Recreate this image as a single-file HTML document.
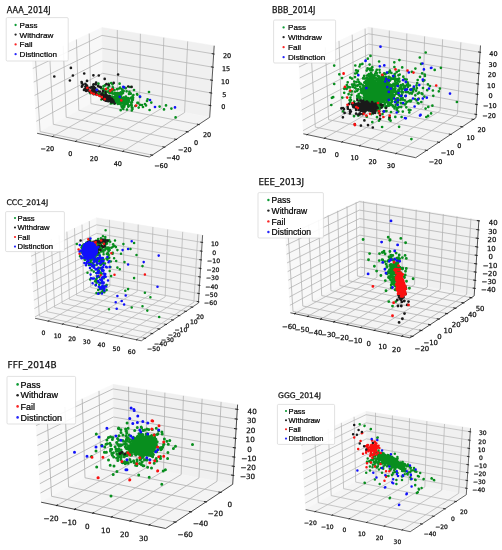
<!DOCTYPE html>
<html lang="en"><head><meta charset="utf-8"><title>3D scatter plots</title>
<style>
html,body{margin:0;padding:0;background:#fff}
svg{display:block}
.t{font-family:"DejaVu Sans","Liberation Sans",sans-serif;fill:#111;stroke:#111;stroke-width:0.25px}
.l{font-family:"Liberation Sans",sans-serif;fill:#000;stroke:#000;stroke-width:0.22px}
</style></head>
<body>
<svg width="502" height="550" viewBox="0 0 502 550">
<rect width="502" height="550" fill="#fff"/>
<g id="plot1">
<polygon points="37.1,133.3 103,97 101.9,27.5 32.3,60.2" fill="#f8f8f8" stroke="#f8f8f8" stroke-width="0.5"/>
<polygon points="103,97 209.7,117.3 214.2,45.7 101.9,27.5" fill="#f0f0f0" stroke="#f0f0f0" stroke-width="0.5"/>
<polygon points="37.1,133.3 149.4,157 209.7,117.3 103,97" fill="#f4f4f4" stroke="#f4f4f4" stroke-width="0.5"/>
<path d="M52.5,136.6 L117.7,99.8 L117.3,30 M75.5,141.4 L139.6,103.9 L140.4,33.8 M99,146.3 L161.9,108.2 L163.8,37.6 M122.9,151.4 L184.6,112.5 L187.7,41.4 M152.2,155.1 L40.1,131.6 L35.5,58.7 M164.3,147.1 L53.3,124.3 L49.5,52.1 M176.1,139.4 L66.2,117.2 L63.2,45.7 M187.6,131.8 L78.8,110.3 L76.4,39.5 M198.7,124.5 L90.9,103.6 L89.2,33.5 M36.3,121.3 L102.8,85.5 L210.4,105.5 M35.4,108.5 L102.6,73.3 L211.2,93 M34.6,95.4 L102.4,60.9 L212,80.2 M33.7,82.1 L102.2,48.3 L212.8,67.2 M32.8,68.5 L102,35.4 L213.7,53.9" fill="none" stroke="#b2b2b2" stroke-width="0.75"/>
<path d="M37.1,133.3 L149.4,157 L209.7,117.3 L214.2,45.7" fill="none" stroke="#111" stroke-width="0.68" stroke-linejoin="round"/>
<path d="M51.9,136.9 L53.7,135.9 M75,141.7 L76.7,140.7 M98.4,146.7 L100.1,145.7 M122.3,151.7 L124,150.7 M153.1,155.3 L150.2,154.7 M165.3,147.3 L162.4,146.7 M177.1,139.6 L174.2,139 M188.6,132 L185.7,131.4 M199.7,124.7 L196.9,124.1 M211.4,105.7 L208.6,105.2 M212.2,93.2 L209.3,92.6 M213,80.4 L210.1,79.9 M213.8,67.3 L210.9,66.8 M214.6,54.1 L211.7,53.6" fill="none" stroke="#222" stroke-width="0.95"/>
<g class="t" font-size="6.5" text-anchor="middle">
<text x="47.4" y="150.9">−20</text><text x="70.4" y="155.8">0</text><text x="93.9" y="160.9">20</text><text x="117.8" y="166">40</text><text x="161" y="168.4">−60</text><text x="173.1" y="160.3">−40</text><text x="184.8" y="152.4">−20</text><text x="196.1" y="144.8">0</text><text x="207.1" y="137.4">20</text><text x="223.4" y="109.1">0</text><text x="224.3" y="96.6">5</text><text x="225.2" y="83.8">10</text><text x="226.1" y="70.8">15</text><text x="227.1" y="57.6">20</text>
</g>
<path d="M124.3 106.7h0M116.9 100.7h0M111.2 93h0M128.7 102h0M105.9 96.5h0M117.1 95.1h0M121.5 94.3h0M110.9 103.4h0M116.7 97.3h0M123.1 103.3h0M120.8 96.3h0M135.4 106h0M115.8 102.4h0M117.4 101.4h0M127.8 103.4h0M127.6 100.7h0M127 109.6h0M116.5 98.8h0M125.9 96.5h0M109 99.4h0M118 94.4h0M113.9 97.4h0M121.9 101.1h0M128.8 100.8h0M116.8 99.7h0M118.5 98.2h0M125.5 104.3h0M112.7 100.2h0M128.3 105.2h0M104 94.6h0M117.2 97.6h0M117.7 102.9h0M117.9 97.5h0M113.2 103.2h0M111.6 97.3h0M101.4 99.5h0M112.1 96.6h0M122.6 100.8h0M121.5 102.4h0M132.3 107.7h0M122.7 106.2h0M131.4 105.6h0M111.8 99.4h0M110.9 98.7h0M118.3 97h0M121.9 102.6h0M118.2 95.2h0M117.4 97.2h0M126.8 102.4h0M113.8 102.4h0M131 105h0M123.4 105.4h0M123.4 101.4h0M111.5 99.6h0M124 97.7h0M120.5 101.6h0M127.2 101.6h0M114.8 100.2h0M128.5 102.2h0M101.2 88.3h0M118 95.9h0M131.8 107.4h0M119.5 98.6h0M115.9 99.6h0M132.9 99.8h0M115.4 99.7h0M113.9 97.9h0M122.9 97.9h0M120.5 104.3h0M120.9 102.4h0M114.8 94.5h0M116 96.5h0M115.3 98.8h0M123.3 108.9h0M113.9 97.9h0M118.3 97.2h0M117.9 101.6h0M119.1 101h0M119.7 102.2h0M120.2 98.3h0M123.4 103.7h0M112.6 89.3h0M116.5 100.1h0M128.2 100h0M123.4 97.5h0M123.5 99.2h0M117.8 98.5h0M118.9 98.8h0M120.6 102h0M132 102.2h0M114.4 98.7h0M128.3 102.1h0M109.3 96.9h0M113.6 100.5h0M120.2 103.9h0M117.9 103.9h0M114.3 93.9h0M119.9 99.9h0M128.3 106.7h0M111.2 98.6h0M112.3 92.5h0M115.5 93.1h0M120.7 102.5h0M122.7 105.8h0M125.1 99.4h0M125.2 102.8h0M127 103.7h0M112.4 102.7h0M122.5 101.1h0M132.5 109h0M122.7 103.3h0M138.7 107.6h0M126.4 99.4h0M115.1 96.9h0M112.1 100.8h0M119.9 99.8h0M108.3 97h0M107.2 91.7h0M109.9 90.2h0M123.5 98.6h0M104.9 98.8h0M118.2 101.1h0M131.3 102.4h0M112 92.3h0M121.6 106.6h0M119.2 95.9h0M121 92.3h0M111.2 83.1h0M133.4 95.1h0M119 93.5h0M114.9 93.2h0M104.9 85.4h0M122.4 101.3h0M123 93.1h0M110 93h0M119.1 88.5h0M107.7 88.2h0M109.8 92.2h0M131.5 104.6h0M108.6 83.9h0M120.8 94.9h0M123.5 105.8h0M130.8 93.7h0M109.5 90.5h0M121.4 98.9h0M122.9 93.2h0M112.8 87.3h0M119.3 93h0M131.3 97.7h0M123.2 102.9h0M120.7 110.2h0M151.3 102.6h0M118.2 96.4h0M103.5 89.2h0M127.5 99h0M118 99.6h0M111.8 97.2h0M117.2 89.2h0M109.5 93.2h0M121.3 94.7h0M114.5 90.1h0M110.6 98.4h0M137.3 94.7h0M128 98h0M132 99.6h0M112.6 90.4h0M112.8 88.6h0M109.1 86.2h0M125.9 98.3h0M129.4 91.8h0M121.9 99.7h0M125 100.5h0M131.7 105.3h0M117.2 93.1h0M125.1 100.2h0M110.1 96.4h0M104.8 93.8h0M119.8 96.8h0M90.3 93.2h0M125.6 100.8h0M126.7 98.2h0M129.3 98.7h0M121.7 92.4h0M103.1 93h0M98 94h0M112.6 93.6h0M133.1 97.8h0M120.1 100.3h0M124.3 87.5h0M99 93.3h0M137.4 102.9h0M131.3 102.6h0M119.6 83.7h0M112.3 93.5h0M122.1 107.5h0M118.8 101.8h0M112.5 84.3h0M110.6 92.1h0M110.6 98.7h0M131.9 101.1h0M109.4 92.1h0M126.6 91.3h0M128.8 105.9h0M121.9 89.3h0M112.2 90.2h0M111.3 97.3h0M129 93.9h0M103.5 86.3h0M131 104.6h0M139.9 104.8h0M101.3 94.5h0M98.4 83.7h0M120.1 87.7h0M118.9 95h0M138.1 102.8h0M109.6 92.3h0M121.1 94.2h0M122.3 90h0M95.4 91.5h0M147.6 99.3h0M123.6 98.1h0M102.5 98.6h0M105.2 90.6h0M125.8 88.1h0M131.8 110.5h0M123.7 91.1h0M132.6 96.3h0M103.1 92.5h0M110.3 100.9h0M124.5 100.1h0M149 92h0M140 97h0M145 104h0M142 105h0M149.6 110h0M159.6 106.6h0M166 105.4h0M164 109.4h0M171.4 108.6h0M175.6 117.4h0M130 87h0M134 90h0M137 94h0M132 99h0M147 101h0M143 107h0M146 105.4h0" stroke="#088e1e" stroke-width="2.70" stroke-linecap="round" fill="none"/>
<path d="M106.2 98.5h0M104.3 99.9h0M102.3 98.7h0M107.1 101h0M108.9 99.8h0M113.6 101.8h0M108.3 99.9h0M112.5 100.4h0M104.6 96.4h0M109.9 100h0M109.4 100.9h0M107.7 97.1h0M108.6 97.8h0M110.6 98.4h0M111.4 102.3h0M108.9 98.4h0M109.9 99.4h0M114.7 103.6h0M110 100.7h0M104.7 98.7h0M101.7 95.9h0M106.4 97.4h0M109.2 100.9h0M100.2 96h0M110.2 100.3h0M108.4 101.2h0M107.9 99.2h0M105.5 100.6h0M110.5 100.8h0M109.7 97.7h0M103.7 96h0M105 98.2h0M112 98.9h0M109.5 96.1h0M103.4 95h0M103.2 95.2h0M113.2 100.4h0M106.1 94.6h0M103.9 98h0M102.2 97.1h0M89.6 91.7h0M102.9 91.2h0M87.9 89.6h0M82.2 86h0M97.6 90.7h0M84.7 88.8h0M87 85.6h0M96.5 94.6h0M93.5 94.1h0M108.2 99.7h0M92 90.5h0M99.6 95.5h0M95.5 91.1h0M106 94.4h0M92.7 92.4h0M84 90h0M110.1 99.9h0M90.7 87.6h0M93.2 91.9h0M109.5 99.3h0M96.1 91.2h0M93.8 92.6h0M93.9 90.7h0M106.4 96.9h0M103 94.8h0M93.5 93h0M88.2 90.4h0M92 92.6h0M82.8 84.7h0M97.1 91.2h0M85.8 88.5h0M93.8 88.6h0M107.3 97.9h0M95.2 88.1h0M81.9 86.7h0M101.6 93.7h0M96.4 94.4h0M94.5 93.9h0M99.8 91.6h0M95.7 93h0M85.4 84.1h0M95.2 90.5h0M107.6 95.8h0M108.3 99.4h0M97.3 91.3h0M81.6 82.1h0M92.5 89.6h0M88.4 87.8h0M95.9 84.3h0M100.9 94.9h0M93.9 87h0M87 89.3h0M92.3 86.8h0M100.9 87.3h0M105.5 92.3h0M95.3 91.2h0M88.1 88.2h0M93.8 84.3h0M96.1 82.5h0M98.1 86.2h0M93.4 84.7h0M87 80.9h0M106.4 84.2h0M54.3 76.5h0M70.9 67.9h0M72.9 75.5h0M69.9 80.5h0M84.2 73.5h0M93.4 75.3h0M98.8 75.5h0M118.1 74.5h0M81.8 82.9h0M104.7 78.9h0M85.4 86.5h0M86.2 90.9h0M128.2 86.5h0M131.6 86.9h0M99.8 86.9h0M108.7 84.9h0M113.7 82.9h0" stroke="#1a1a1a" stroke-width="2.70" stroke-linecap="round" fill="none"/>
<path d="M89.8 90.5h0M91.4 92.8h0M93.8 93.8h0M96.8 94.8h0M99.4 95.8h0M110.1 90.9h0M112.1 89.3h0M104.7 99.2h0M121.3 100.4h0M87.4 87.9h0M101.8 97.2h0M136 105.6h0M106 89h0" stroke="#fa1010" stroke-width="2.70" stroke-linecap="round" fill="none"/>
<path d="M123.3 86.9h0M119.7 96.8h0M96.8 89.9h0M124 87.4h0M140 96.6h0M150 100h0M155 107h0M175 107.4h0" stroke="#1010fa" stroke-width="2.70" stroke-linecap="round" fill="none"/>
<rect x="6.2" y="17.6" width="62" height="43.4" rx="1.2" fill="#fff" fill-opacity="0.9" stroke="#ccc" stroke-width="0.6"/>
<g class="l" font-size="8.1">
<circle cx="15.6" cy="25" r="1.15" fill="#0c9a34" stroke="none"/><text x="19.6" y="27.9">Pass</text>
<circle cx="15.6" cy="34.6" r="1.15" fill="#262626" stroke="none"/><text x="19.6" y="37.5">Withdraw</text>
<circle cx="15.6" cy="44.4" r="1.15" fill="#fa2424" stroke="none"/><text x="19.6" y="47.3">Fail</text>
<circle cx="15.6" cy="54.2" r="1.15" fill="#2424fa" stroke="none"/><text x="19.6" y="57.1">Distinction</text>
</g>
<text class="t" x="6.8" y="12.6" font-size="8.05">AAA_2014J</text>
</g>
<g id="plot2">
<polygon points="303.3,133.8 369.2,97.2 368.1,27.1 298.5,60.1" fill="#f8f8f8" stroke="#f8f8f8" stroke-width="0.5"/>
<polygon points="369.2,97.2 476,117.7 480.5,45.5 368.1,27.1" fill="#f0f0f0" stroke="#f0f0f0" stroke-width="0.5"/>
<polygon points="303.3,133.8 415.7,157.7 476,117.7 369.2,97.2" fill="#f4f4f4" stroke="#f4f4f4" stroke-width="0.5"/>
<path d="M307.2,134.6 L372.9,97.9 L372,27.8 M324.4,138.3 L389.4,101 L389.3,30.6 M341.9,142 L406,104.2 L406.8,33.5 M359.7,145.8 L422.9,107.5 L424.6,36.4 M377.7,149.6 L440.1,110.8 L442.6,39.3 M396,153.5 L457.4,114.1 L460.9,42.3 M426.7,150.4 L315.3,127.1 L311.2,54 M438.9,142.3 L328.6,119.7 L325.3,47.4 M450.7,134.4 L341.5,112.6 L339,40.9 M462.2,126.8 L354.1,105.6 L352.2,34.7 M473.4,119.4 L366.3,98.8 L365.1,28.6 M303.1,130.6 L369.2,94.1 L476.2,114.5 M302.4,120.4 L369,84.4 L476.8,104.5 M301.7,110 L368.9,74.5 L477.5,94.3 M301.1,99.5 L368.7,64.5 L478.1,84 M300.4,88.8 L368.5,54.4 L478.8,73.6 M299.7,78 L368.4,44.1 L479.4,63 M299,67 L368.2,33.7 L480.1,52.3" fill="none" stroke="#b2b2b2" stroke-width="0.75"/>
<path d="M303.3,133.8 L415.7,157.7 L476,117.7 L480.5,45.5" fill="none" stroke="#111" stroke-width="0.68" stroke-linejoin="round"/>
<path d="M306.6,135 L308.3,134 M323.8,138.6 L325.6,137.6 M341.4,142.4 L343.1,141.3 M359.1,146.1 L360.8,145.1 M377.2,150 L378.9,148.9 M395.5,153.9 L397.1,152.8 M427.7,150.6 L424.8,150 M439.9,142.5 L437,141.9 M451.7,134.6 L448.8,134 M463.2,127 L460.3,126.4 M474.3,119.6 L471.5,119.1 M477.2,114.6 L474.4,114.1 M477.8,104.7 L475,104.1 M478.4,94.5 L475.6,94 M479.1,84.2 L476.2,83.7 M479.7,73.8 L476.8,73.3 M480.4,63.2 L477.5,62.7 M481.1,52.4 L478.1,51.9" fill="none" stroke="#222" stroke-width="0.95"/>
<g class="t" font-size="6.5" text-anchor="middle">
<text x="302" y="149">−20</text><text x="319.3" y="152.7">−10</text><text x="336.8" y="156.5">0</text><text x="354.6" y="160.4">10</text><text x="372.6" y="164.3">20</text><text x="390.9" y="168.2">30</text><text x="435.5" y="163.6">−20</text><text x="447.6" y="155.4">−10</text><text x="459.3" y="147.5">0</text><text x="470.6" y="139.8">10</text><text x="481.6" y="132.3">20</text><text x="489.1" y="118">−20</text><text x="489.8" y="108">−10</text><text x="490.5" y="97.9">0</text><text x="491.2" y="87.6">10</text><text x="492" y="77.2">20</text><text x="492.7" y="66.6">30</text><text x="493.5" y="55.9">40</text>
</g>
<path d="M377.1 103.7h0M364.9 96h0M388.2 79.5h0M377.7 95h0M368.3 94.8h0M385.8 93.8h0M384.8 90.3h0M366.3 94.8h0M385.2 95.8h0M372.6 94.5h0M369 103.9h0M382.9 90.5h0M371.8 92.2h0M367 84.7h0M372.9 91.4h0M374.3 89h0M377 92.2h0M371.2 93.2h0M378.3 98.4h0M378.9 99.4h0M378.1 80.1h0M376.8 93.9h0M359 81.9h0M379.6 82.7h0M369.8 91h0M364.9 93.4h0M375.8 93.2h0M364.9 88.1h0M378.9 84.5h0M390.6 88.9h0M386 91.5h0M375.3 83h0M367.8 83.7h0M378.4 91.7h0M374.2 93.8h0M383.7 89h0M370.9 91.9h0M371.3 97.4h0M372.4 95.1h0M385.4 95.3h0M385.6 86.9h0M375.3 93.5h0M383.1 88.1h0M373.1 92.9h0M378 104.6h0M369.9 88.8h0M378 98.5h0M375.3 88.5h0M379.3 92.7h0M376.5 89h0M375.7 78.2h0M386.5 89.1h0M372 96h0M365.3 95.5h0M380 92.4h0M370.8 88.6h0M373.9 99.1h0M380.3 91h0M372.4 98.2h0M371.7 100.5h0M376.6 98.3h0M387.2 88.2h0M365.9 91.2h0M382.1 87.8h0M380.1 98.4h0M380.5 80.8h0M378.1 94.7h0M366.8 86.4h0M376.4 83.2h0M372.7 85.6h0M378.7 88.9h0M376.2 91.8h0M369 87.4h0M367.9 96.8h0M369.2 97.8h0M385.7 97.8h0M386.1 99.5h0M386.6 86.2h0M381.3 84.2h0M380.2 94.9h0M381.1 107.4h0M384.8 88h0M377.9 101.4h0M384.2 98.1h0M384.5 92.9h0M372.3 83h0M369.4 92.9h0M375.6 91.3h0M375.4 89.6h0M378.3 102.5h0M389 86.3h0M374.3 103.3h0M394.9 92.1h0M369.6 100.1h0M378.8 90.5h0M367 89.1h0M372.3 92.4h0M379.5 92.2h0M386.1 82.3h0M384.9 84.3h0M368.8 109.3h0M378.2 95.5h0M391.5 95.2h0M365 95.6h0M365.8 104.3h0M377.7 90.1h0M374 91h0M374.7 89.2h0M372.3 91.5h0M381.1 102h0M378.9 92.6h0M374.4 95.8h0M386.9 84.8h0M358.5 96.4h0M380.6 103.1h0M372.5 97h0M375.7 80.4h0M372.8 89.9h0M378.4 79.8h0M370.4 83.4h0M375.2 96.6h0M378.9 98.7h0M378.3 81.6h0M381 89.7h0M375.9 91.5h0M376.9 86.9h0M373.1 85.9h0M368.8 92.9h0M374 83.6h0M376.8 100.7h0M377.4 88h0M377.7 89.7h0M375 94.8h0M373.9 99.3h0M371.5 100.1h0M378.1 85.9h0M371.6 84.2h0M373.6 95.6h0M371.6 82.9h0M385.1 86.7h0M376.7 97.7h0M377.9 92.7h0M381.6 98.2h0M373.6 97.7h0M385.8 89.9h0M374.2 99.3h0M386.7 88.1h0M368.7 85.7h0M381.2 101.2h0M372.2 86.6h0M380.9 105.5h0M373.7 93h0M381.5 88.9h0M370.1 103.7h0M369.1 88.5h0M385.3 95.8h0M389 96.9h0M377.8 95.4h0M372.9 93.4h0M368.4 92.1h0M370.8 92.8h0M375.8 88.7h0M379.4 93.1h0M366.8 94.8h0M367.6 87.3h0M386.3 94.9h0M377.8 83.6h0M380.9 93h0M373.2 87.3h0M381.1 87.8h0M370 97h0M368.3 87.6h0M374 88.7h0M376.4 100.7h0M378.4 82.8h0M376.7 85.3h0M379.8 87.8h0M378.8 95.6h0M375.8 99h0M373.7 91h0M367.8 91.8h0M383.9 99.8h0M372.6 95.7h0M379.6 84.8h0M379.2 80.4h0M371.9 93.2h0M361.5 89.9h0M386.9 73.1h0M383.4 96.2h0M391.9 99.4h0M371.7 86.8h0M381.1 98.8h0M379.4 90.1h0M366.8 87.7h0M375.7 91.9h0M376.6 93.3h0M371.1 90.3h0M384.4 95h0M386.8 89.8h0M372.9 87.4h0M378.5 97.1h0M373.3 92.6h0M366.1 91.8h0M375.9 84.8h0M378.1 96.4h0M364.5 94.2h0M371.2 93.7h0M373.4 95.5h0M380.1 86.3h0M376.5 90.1h0M377.3 99.4h0M377.2 105.3h0M384.7 87.9h0M386.5 94h0M375.6 88.3h0M380.3 80.2h0M370.1 91.6h0M368.7 90.8h0M379.1 106h0M370.8 86.7h0M370.3 97.6h0M371.6 78.3h0M374.2 97.3h0M375.4 90.8h0M372.1 76.1h0M386 98.9h0M375.5 101.7h0M366.7 92.9h0M378.8 86.9h0M388.2 101.2h0M384.6 89.7h0M385.3 91.8h0M379.8 92.1h0M372.1 79.7h0M388.8 81.9h0M370.7 86.2h0M385.5 78.2h0M394.4 86.3h0M391.6 87.6h0M376.2 97.8h0M380.2 79.1h0M388.8 89.7h0M384.1 95h0M384.4 90.9h0M365.9 80.7h0M372.5 93.6h0M385.4 98.7h0M379 87.8h0M369.8 102.3h0M358 96.6h0M369.5 82.4h0M373.1 92.2h0M379.1 84.8h0M377.7 82.5h0M367.9 86.1h0M379.3 92h0M375.7 87.2h0M390.7 91.9h0M384.9 103.8h0M381.1 81.8h0M376.8 89.2h0M370.2 92.1h0M381.5 106h0M384.3 83h0M369.6 89.7h0M375.8 103.3h0M387.6 97.1h0M376.2 96.1h0M372.1 92.8h0M374.3 88.9h0M392.5 92.8h0M374.6 91.6h0M369.4 82.8h0M382.5 84.3h0M376.9 92.1h0M379 93.7h0M375.8 94.8h0M371.5 99.1h0M398.3 111.6h0M367.2 93.7h0M371.5 96.9h0M381.7 84.4h0M391 98.3h0M374.3 90.4h0M386.4 96.1h0M371.8 96.2h0M375.5 96.1h0M377.4 89.9h0M376.5 87.6h0M388.4 88h0M370.8 92.3h0M379.4 92.3h0M383.9 87.7h0M372.3 94.6h0M373.9 84.5h0M376 90.7h0M383.8 93.8h0M388.3 92.4h0M370.5 91.7h0M376.4 89.1h0M376.4 89.3h0M379.5 98.9h0M384.6 95.1h0M373.4 92.2h0M371.1 104.1h0M386.2 95.1h0M369.7 95.1h0M375 102.6h0M377.1 104.7h0M381.1 94.5h0M372.7 87.9h0M374.5 92.1h0M375.5 97.3h0M375.9 93.5h0M383.5 91.4h0M368.3 82.6h0M386 96.7h0M380 103.6h0M380.1 81.2h0M380.9 95.5h0M390.3 89.1h0M378.6 100h0M397.3 84.9h0M386.6 92.9h0M379.1 100h0M370.6 90.4h0M364 87.8h0M381.1 90h0M385.5 95.7h0M363 89.5h0M369.5 82.2h0M375.3 103.3h0M376.2 92h0M376.2 89.7h0M365.7 92.8h0M365.3 92.1h0M361.1 90.1h0M371.8 98.3h0M382.2 101.7h0M390.6 92h0M371.1 100.5h0M369.4 76.9h0M381.6 86.9h0M385.8 96.5h0M389.9 90h0M380.1 85h0M376.5 94.2h0M361.2 84.1h0M368.7 93.3h0M370 83.9h0M365.7 93.6h0M378.7 98.4h0M372.2 87.5h0M369.5 76.6h0M364.8 87.9h0M381.5 93h0M380.1 90.4h0M384.4 96.3h0M372.8 99.6h0M379.2 88.8h0M381.1 100.9h0M381.3 96.6h0M357.1 91h0M395.4 88.3h0M375.8 90.6h0M368.5 84h0M371 89.5h0M374 94.4h0M380.3 88.9h0M388.9 102.6h0M363 85.4h0M375.5 96h0M379.5 98.2h0M368.3 100.4h0M381.2 100.4h0M373 97.8h0M381.9 81.8h0M379.6 91.4h0M384.6 89.5h0M372.9 89.8h0M357.1 98.1h0M364.5 93.4h0M381 89.2h0M381.1 86.7h0M374.8 91.3h0M379.3 94.4h0M373.2 91.6h0M380.5 80.5h0M384 101h0M371.1 85.4h0M377.4 92.9h0M377.5 91.4h0M370 88.2h0M381.8 91.5h0M391.7 90.8h0M375.5 91h0M391.8 92h0M380 94.2h0M377.3 101.8h0M382.9 93h0M375.3 94.9h0M375.3 93h0M369 87.9h0M369.8 101.8h0M375.6 96.2h0M383 89.1h0M380.4 107.9h0M372 83.9h0M375 93.2h0M369.7 87.1h0M365.7 87.9h0M379.3 83.1h0M378.2 86.3h0M382.2 91.5h0M376.6 86.1h0M384.9 97.1h0M372.2 94.2h0M372.5 100.3h0M377.7 98h0M384.8 89.5h0M381.9 95.7h0M375.2 95.6h0M380.5 92.1h0M386.5 87h0M382.9 97.9h0M364.7 88.8h0M390 92h0M375.8 92.8h0M381.5 98.2h0M376 79.1h0M373.4 93.3h0M379.1 100.5h0M372.6 97.5h0M382.9 95.6h0M367.6 90.5h0M379.1 91.8h0M382 81.8h0M387.7 99.2h0M359.5 96.5h0M383.8 102.1h0M379.9 98.7h0M370.3 79.8h0M382.9 96.1h0M372.9 93.7h0M366.9 91.2h0M372.7 100.1h0M375.1 90.9h0M373.4 96.8h0M381 85.8h0M371.8 93.9h0M384.1 84.5h0M364.1 89.3h0M380.3 84.2h0M374.8 92.2h0M380.5 88.3h0M381.4 90h0M370.9 89.7h0M373.1 103h0M387.6 94.3h0M385.4 92.3h0M377.4 101.7h0M365.5 89h0M376.9 91.6h0M382.7 100.3h0M377.1 97.8h0M362.2 102.5h0M368.2 97.5h0M381.7 82.8h0M380 91.6h0M380.5 97.6h0M377.4 99.3h0M362.1 91.8h0M375.7 90.9h0M364 92.4h0M382.7 88.4h0M377.8 95.1h0M376.1 91.8h0M375 90.6h0M387.2 89.3h0M376.6 93.6h0M379.9 80.5h0M374 97.8h0M381.6 90.6h0M374.1 100h0M374.6 103.2h0M375.3 94.3h0M377.9 96.3h0M386.8 92.2h0M366.2 81.3h0M370.7 93.1h0M358.7 94.1h0M383.1 92.5h0M390.9 103.6h0M368.9 93.7h0M378.7 88.4h0M391.8 91.6h0M369.1 87.8h0M379.8 93.5h0M380.6 87.4h0M369.9 85.4h0M374.4 106.9h0M390.4 97.3h0M375.9 84.3h0M371.4 93.2h0M375.6 84.3h0M381.2 89.2h0M376.9 96.6h0M390 89.9h0M380.6 88.4h0M373.2 107h0M372.9 97.8h0M375.9 86.4h0M367.9 85.1h0M384.9 92h0M382.3 92.4h0M380.4 97.5h0M387.5 91.1h0M375.2 91h0M392.1 95.6h0M369.1 99.1h0M367.4 94.4h0M376.1 91.4h0M367.3 97.7h0M367.5 88.2h0M378.7 106.8h0M375.2 86.8h0M382.9 91.8h0M379.3 101.1h0M372.5 90.4h0M372.7 86.7h0M380.3 99.4h0M384.7 94.7h0M379.1 88.7h0M373 97.8h0M371.5 99.4h0M377.5 95h0M382.3 88.7h0M383.3 92.6h0M385.2 95.5h0M385.7 82.1h0M382.7 89.3h0M380.1 79.9h0M373.3 106.3h0M377.2 107.9h0M376 90.2h0M379.1 101.9h0M385.2 97.4h0M367.5 97.9h0M374.2 94.3h0M390.7 95.4h0M379.5 92h0M386 90.3h0M387.6 90.3h0M369.4 86.8h0M376.1 101.2h0M372.2 94.7h0M363.5 102.5h0M376.3 96.3h0M374.3 77.8h0M380.5 82.5h0M379.7 97.4h0M375.9 91.9h0M379.8 93.7h0M378.3 103.4h0M382.9 95.6h0M371.8 96.1h0M366.2 94.1h0M372.4 93.6h0M374.3 93.8h0M370.9 97h0M388.2 89.1h0M375.7 83.1h0M366.3 91.1h0M379.7 97.4h0M378.1 87.1h0M378.3 88.7h0M377.7 98.5h0M364.5 90.9h0M388.9 92.2h0M392.7 98.7h0M370.9 88.6h0M384 88.4h0M378.6 113h0M379.8 99.7h0M382.2 86.1h0M374.2 87.5h0M381.2 88.7h0M374.5 92.6h0M368.9 94.3h0M379.3 89.9h0M376.8 92.9h0M378.4 84.2h0M355.9 88.6h0M379.9 91h0M391.4 98.9h0M377.1 97.6h0M389.4 96.2h0M373.2 98.5h0M371.5 83.3h0M373.3 102.1h0M381.2 98h0M373.3 93.1h0M379.3 78.2h0M363.8 97.3h0M370.7 84h0M386.3 99.1h0M378.9 96.1h0M373.3 94.7h0M372.9 86.9h0M375.9 82.9h0M374.4 89.8h0M366.9 96.6h0M378.2 92.9h0M378.2 104.7h0M372.8 98.4h0M373.1 104.4h0M384.2 79.5h0M395.6 99.5h0M374.2 89.4h0M370.9 89.5h0M370.5 81h0M375 86.7h0M391.3 94.7h0M383.6 98.7h0M372.7 80.1h0M386.9 88.1h0M379.6 89.8h0M374.2 91h0M389.9 84.5h0M383.7 94.9h0M388.9 105.7h0M371.6 85.8h0M376.3 86.9h0M385.3 92.1h0M358.6 95.6h0M370.7 97.5h0M378.8 84.5h0M375.5 91.7h0M379.5 99.5h0M374.5 93.9h0M376 89.6h0M373.1 87.1h0M374 93.5h0M388.2 93.2h0M388.9 89.8h0M380.4 90.4h0M370 99.3h0M373.1 84.1h0M372.4 75.1h0M369.8 92.3h0M380.5 100.3h0M370.5 96.4h0M374.8 91.2h0M390.9 99.7h0M367 85.9h0M384.7 89.4h0M374.2 87.4h0M381.4 92.8h0M366.2 82h0M372.4 95h0M363.5 102.9h0M359.3 97.8h0M377.8 94.6h0M375.2 81.3h0M390.1 80.2h0M369 86.8h0M374.3 99.2h0M377.4 91.6h0M373.8 100.8h0M376 83.2h0M380.4 93.4h0M383.9 87.5h0M364.8 93.7h0M374.6 98.5h0M372.5 107.1h0M375.3 86.8h0M382.9 95.5h0M380.1 90.4h0M384.9 87.7h0M384.2 99.9h0M368.7 92.6h0M369.7 94.6h0M386.2 93.6h0M374 81.9h0M389.4 90h0M371 85.2h0M382 86h0M374.4 82.4h0M369 87h0M387.4 92h0M380.2 90.3h0M396 93.3h0M374.5 86h0M369.6 91.3h0M376 93.1h0M376.2 95.9h0M371.3 91.1h0M370.2 92.4h0M371.9 99.1h0M375.9 88.6h0M364.9 86.1h0M380.4 87.4h0M385 86h0M368.6 89.1h0M379.7 105.7h0M380.1 91.5h0M393.7 84.9h0M376.8 109.5h0M377.8 100.4h0M379.8 92.6h0M376.6 98.2h0M375.1 86.6h0M365.2 97.6h0M384.8 82.2h0M374.2 90.9h0M375.3 91.9h0M374.2 94h0M357.1 95.9h0M373.8 85.9h0M382.3 93.4h0M377.6 82.5h0M379.7 91.8h0M373.4 100.8h0M387.3 80.3h0M367.9 93.8h0M378.9 101.6h0M386 90.3h0M379.6 94.3h0M375.5 97.6h0M378.3 85.1h0M361.9 93.1h0M366.8 83.9h0M376.7 89.8h0M386 88.9h0M370.8 97h0M362.7 88.5h0M372.6 81.8h0M378.8 76.3h0M365.3 94h0M369.2 89.2h0M384.8 95.9h0M380.9 100.7h0M386.6 89.1h0M382.6 98.4h0M377.3 89.6h0M372.6 91.1h0M381.6 90.7h0M376.5 90.7h0M373.6 76.2h0M376.2 89.7h0M367.1 75.7h0M381.2 93h0M374.6 103.2h0M379.8 87.9h0M379.1 99.9h0M383.4 94.3h0M390.7 92.3h0M377.7 96.2h0M377.2 90.1h0M383.8 90.4h0M379 98.1h0M377 95.1h0M376.5 97.8h0M371.5 97.2h0M384.9 88.4h0M375 100.5h0M381 88.5h0M378 86.9h0M381.9 82.1h0M378.2 97.4h0M369.5 96h0M373.7 94.2h0M371.9 97.8h0M378.1 89.6h0M380.3 79.7h0M383.3 96.8h0M379.9 90h0M392.2 96.4h0M392.7 94.6h0M375.3 95.7h0M371.3 102.5h0M379 85h0M384.8 99.7h0M387.6 87.2h0M376 95.7h0M373.9 99.1h0M375.7 93.4h0M378 90h0M392 95.9h0M371.7 98.9h0M377.8 94.4h0M388.8 97.3h0M381.8 84h0M387.4 91.5h0M374 96.7h0M380 88.4h0M381.6 91h0M370.6 88.9h0M371.5 92.3h0M370.1 81.1h0M391.7 85.1h0M374.3 93h0M375.4 94.4h0M388.2 103.5h0M374.5 105.7h0M389.7 92.6h0M369.8 76.4h0M369.5 91.7h0M378.8 82.1h0M364.6 82.4h0M375.8 98.5h0M388.8 96.9h0M383.3 87.1h0M375.4 87.2h0M376.1 98.7h0M374.8 87.3h0M374.4 93.3h0M368.4 101.8h0M379.2 102h0M368.5 90.3h0M373.3 95.7h0M387.1 101.4h0M370.9 92.1h0M382.6 90.5h0M374.9 88.2h0M370.2 85.3h0M369.8 92.4h0M384.9 93.6h0M368 79.2h0M368.5 91.2h0M373.4 92.7h0M376 89.2h0M373.1 75.4h0M396.6 93.7h0M397.2 102.4h0M374.8 93.8h0M380 83.6h0M389.3 95.1h0M387.7 93.8h0M391.6 91.2h0M372 76.3h0M367.4 90.4h0M389 85h0M379.2 82.6h0M390.2 92.6h0M377.6 80h0M383.8 88.9h0M381 84.3h0M388.3 92.3h0M373.8 91.4h0M366.2 88.1h0M385.5 95h0M368.1 85.4h0M377.3 102.3h0M370.9 88.9h0M378.3 97.1h0M366.8 93.7h0M388 79h0M367.1 96.7h0M388.4 96.2h0M380.4 102.9h0M388.2 88.4h0M377.3 101.8h0M370.3 88.1h0M370.3 91.9h0M378.3 90.7h0M366.6 92.2h0M387.1 90h0M371.7 93.9h0M382.5 100.2h0M385.5 107.8h0M366.1 97.7h0M370.3 98.3h0M374.3 80.8h0M386.1 86.2h0M381.6 99.4h0M365.8 85.9h0M374 80.8h0M373.9 94.7h0M371.6 101.7h0M374.3 96.8h0M379.8 87.9h0M379.2 90.2h0M366.5 90.9h0M384.9 96.9h0M384.3 98.1h0M384.1 86.8h0M379.2 97.9h0M371.7 85h0M377 84.8h0M372.6 87.7h0M391.2 102.3h0M367.4 86.1h0M384.9 92.3h0M383.3 90.7h0M389.9 104.8h0M379.2 87.7h0M379.7 86.8h0M381.2 88.8h0M385.3 90.6h0M382 95.8h0M379.9 80h0M347.7 82.3h0M362.2 101.8h0M392 96.2h0M375.8 91.7h0M377.3 94.3h0M374.8 91.3h0M373.2 108h0M389.3 84.8h0M367.2 93.9h0M375.4 99.4h0M376.2 94.4h0M374.4 93.5h0M380.1 93h0M402.8 99.6h0M393.8 89.4h0M363.4 87.3h0M355.3 65.5h0M365.3 86.8h0M401.3 99.1h0M370.8 100.1h0M402.4 99.2h0M371.3 114.1h0M389.9 92.1h0M382.8 88.1h0M372.5 70.1h0M360.8 92.4h0M378.1 101.8h0M370.7 85.1h0M381.9 75.1h0M358.7 101h0M374 88.3h0M392.9 105.5h0M391.1 95.6h0M369.8 70.1h0M366.8 116.7h0M377.4 82.9h0M358.1 89.4h0M399.2 95.2h0M402.5 89h0M370.4 78.8h0M363.9 94.3h0M370.4 107.6h0M392.3 101.6h0M403.8 86.1h0M377.5 83.9h0M371.2 77.7h0M367.1 92.8h0M388.7 98.7h0M375 99.1h0M381.6 107h0M385.4 93.7h0M387.8 102.6h0M388.3 72.7h0M394 78.8h0M379 90.7h0M398.4 79.3h0M379.3 91.2h0M367.4 92.4h0M371.4 77.3h0M370.1 90.1h0M385.2 97.1h0M362.2 92.1h0M377.5 110.3h0M386.3 82.6h0M369.8 82h0M369.6 86.1h0M367.2 93.2h0M382.5 89.8h0M403 103.6h0M380 94.7h0M357.2 85.8h0M383.3 83.7h0M383.7 85.2h0M376.6 93.4h0M391.3 97.4h0M376.1 85.9h0M365.1 95.9h0M398.8 107.1h0M377.1 88.6h0M396.8 79.9h0M380 92.1h0M390.9 86.6h0M384.6 90.3h0M398.4 94.5h0M360.2 64.5h0M378.9 86.3h0M382.1 81.1h0M390.5 95h0M383.5 93.7h0M388.4 85.4h0M368.4 96.2h0M381.9 105.2h0M383 89.4h0M389.2 72.1h0M371.1 70.3h0M373.5 80h0M389.4 104.3h0M418.5 103.4h0M375.8 109.8h0M382.7 90.3h0M368.5 80.9h0M385.8 83.1h0M379.3 85.3h0M389.5 97.6h0M398.4 90.4h0M401.9 94.8h0M386.8 83.7h0M372 87.3h0M377.8 85.6h0M378 99.3h0M386.6 92.6h0M385.7 95h0M385.7 98.5h0M366.7 70.6h0M408.8 109.9h0M370.2 93.6h0M378.1 88.4h0M356.5 82.1h0M370.6 89.1h0M382 88.1h0M360.8 89h0M384.2 73.6h0M367.8 92.2h0M392.1 90.9h0M370.6 74.4h0M372.1 95.3h0M391.4 87.2h0M394.3 62.3h0M373.5 105.4h0M375.4 81.1h0M404.7 100.3h0M372.5 87.2h0M391.9 105.1h0M383.1 79.3h0M390.1 96.7h0M354.3 81.5h0M384.2 87.8h0M386.5 111.1h0M371.2 90.3h0M396.5 99.5h0M377.5 99.7h0M391.4 78.9h0M384.9 92.2h0M392.4 89.5h0M394.1 96.2h0M396.8 84.9h0M364.1 100h0M389.1 119.3h0M394.8 89.4h0M410.3 89.7h0M387.4 90.1h0M370.7 103.6h0M394.6 78.8h0M379.4 81.1h0M379 92.9h0M367.1 99.6h0M401.9 92.7h0M362.9 91.4h0M406.3 107.3h0M374.7 75.5h0M381.9 80.2h0M379.7 90h0M379.7 108.9h0M371.4 84.3h0M389.1 96.4h0M386.6 89.4h0M374.4 77.9h0M380.9 83.2h0M383.5 92.5h0M383.6 100.3h0M376.8 69.8h0M383.1 83.3h0M375.6 99.5h0M402.8 111.6h0M398.4 86.1h0M378.6 95.3h0M401.2 85.4h0M369.1 86.1h0M375.9 86.9h0M370.2 89.1h0M378.4 96h0M394.7 74.1h0M374.4 107.6h0M375.4 99.9h0M362.4 63.9h0M339.3 74.3h0M383.6 106.1h0M399.3 95.6h0M382.5 114.1h0M381.2 86.1h0M395.8 104.6h0M406 91.9h0M393.3 90.6h0M388.1 83.7h0M375.2 102.5h0M372 92.5h0M391.4 72.9h0M364.2 75.8h0M398.5 90.2h0M370.9 92.2h0M415.3 95.3h0M410.6 101.4h0M387.8 87.3h0M354.4 84.2h0M392.7 78.7h0M368.1 94.4h0M377 117.2h0M369 91h0M385.8 78.1h0M399 90h0M369.1 88.6h0M377.4 92.8h0M399.9 88.2h0M359.2 96.9h0M366.6 83.5h0M389.9 70.7h0M370.9 73.2h0M371.1 76.9h0M384.1 77.4h0M376.5 105.8h0M367 83.1h0M386.2 81.1h0M368.4 88.5h0M354.9 87.7h0M379.6 99h0M363.5 97.7h0M376 71.5h0M397.9 84.1h0M401.2 107.1h0M405.9 103.6h0M362.1 100.5h0M346.8 85h0M368.9 97.5h0M352 78.6h0M365.2 97.8h0M364.5 101.6h0M388.3 91.8h0M361.9 92.7h0M391.6 86.7h0M367.9 93.3h0M402.9 84.4h0M384.2 85.9h0M405.2 96.1h0M377.6 92.8h0M367.8 58.7h0M391.7 86.3h0M381.1 83.6h0M395.4 106.5h0M368.2 84.2h0M368 81.3h0M383.7 96.7h0M363.8 94.8h0M373.9 93h0M346.6 89h0M390.3 92.4h0M377.4 78.7h0M399.1 91.2h0M366.4 85.2h0M385.4 96.6h0M394 96.8h0M367.9 95h0M370.7 106.5h0M368.3 96h0M386.6 97.2h0M364.4 86h0M372.4 86.7h0M406.2 82.2h0M374.1 82.5h0M374.7 93.4h0M379.5 108.8h0M378.5 86.8h0M416.5 85.4h0M415 99h0M380.8 89.5h0M382.8 105.3h0M375.3 98.1h0M385.1 93.1h0M371.4 91.4h0M387.6 82.6h0M377.7 98h0M398.6 89.5h0M374.6 83.1h0M395.2 85h0M369.6 64.6h0M374.9 91h0M398 101.3h0M387.2 87.9h0M409.8 100.6h0M357.1 72.9h0M375.9 97h0M389.5 93.1h0M355 77.1h0M375.9 88.5h0M351.9 91.4h0M368.9 86.7h0M374.4 90.4h0M360.5 99.2h0M392.7 97.8h0M380.2 91.8h0M386.4 83.7h0M388.7 76.9h0M397 102.5h0M378.1 84.1h0M391.9 87.5h0M356 70.3h0M384 93.5h0M382.2 78h0M376.3 88h0M381 105h0M408 92.2h0M392.8 95.3h0M360.5 83.6h0M377.8 93.6h0M354.2 101.6h0M366.7 78.2h0M368.5 96.2h0M389.9 94.5h0M378.6 102.4h0M377 86.4h0M383.3 95.7h0M371.5 83.7h0M389.3 77.1h0M379.1 98.5h0M411.1 100.6h0M388 84.7h0M385 98.5h0M365.6 86.6h0M374.8 101.4h0M362 104.6h0M394.3 85h0M366.2 84.3h0M368.2 94.2h0M373.9 90.6h0M379.5 77.7h0M381.1 100.6h0M361.7 91.9h0M377.7 83.6h0M394.4 89.1h0M375.6 100.5h0M362.3 109.6h0M381.9 76.4h0M372.1 78.1h0M383.9 84.4h0M372.9 79.3h0M378.5 81.2h0M380.1 80h0M390.5 86h0M376.9 99.9h0M418.7 98.7h0M367.4 98h0M389.1 88.4h0M375.4 96.1h0M385.8 82.4h0M383 76.2h0M400.9 103.2h0M376.8 109.4h0M374.9 95.5h0M383.4 88.3h0M390.8 87.5h0M390.1 90.5h0M375.1 83.4h0M375.9 96.3h0M394.8 77.8h0M375.8 101.5h0M372.5 90.2h0M397.9 98.3h0M389.9 98.1h0M382.5 114h0M384 85.6h0M401.6 89h0M397.4 92.2h0M390.5 95.5h0M350.4 97.7h0M376.3 85.3h0M377.2 90.5h0M343.1 111.3h0M368.5 74.8h0M408.7 101.2h0M375.7 82.1h0M393 106.4h0M363.9 110.8h0M377.4 95.1h0M350.3 101.9h0M378.6 86.6h0M401.2 87.4h0M365.2 110.3h0M388.3 92.5h0M385.2 103h0M375.4 89.3h0M389 104h0M368.1 81.7h0M383.7 97.3h0M382.2 97h0M361.4 103.4h0M360.3 87h0M373.9 89.8h0M360.3 83.3h0M379.7 93.7h0M371.1 85.5h0M384.8 92.5h0M396.6 83h0M416.9 88.2h0M400.8 98.4h0M372.3 91.1h0M385.4 85.3h0M384.6 88.6h0M388.9 86.6h0M368.2 97.2h0M380 79.7h0M379 120.7h0M359.7 84.2h0M381.8 77h0M398 102.2h0M391.9 96.8h0M402.6 98.1h0M349.9 87.4h0M365.6 99.9h0M358.2 85.2h0M394.4 86.4h0M410.4 110h0M376.8 73.1h0M371.3 82.7h0M440.9 67.8h0M391 94.1h0M417.7 80h0M372.9 100.9h0M386.6 86.3h0M401.6 92.3h0M351.5 94.8h0M399.9 95.9h0M371.1 73.5h0M352.6 86.8h0M413.9 87.7h0M399.5 81.6h0M383 82h0M394.5 108.4h0M390.8 104.4h0M431.1 113.4h0M439.9 88.6h0M392.8 98h0M389.3 85.5h0M352.2 84.7h0M352.9 86.2h0M385.3 100.6h0M393.5 83.8h0M369.1 91.2h0M399.4 60.1h0M395.3 101.3h0M386.3 106h0M419.8 57.5h0M375.2 73.5h0M407.6 82.7h0M396.9 109.7h0M389.6 96h0M392.3 89.9h0M427.2 90.2h0M402 103h0M369.6 82.8h0M421.3 102h0M411 92.8h0M379.1 91.2h0M369.8 95.7h0M429.9 86.1h0M428.3 106.9h0M382.1 127h0M379.5 69.8h0M363.3 77.9h0M413 91.5h0M344.2 92.8h0M389.8 80.8h0M395.9 91.3h0M375.4 92.1h0M407.9 86.9h0M417.9 93.6h0M334.2 65.6h0M393.9 97.2h0M369.2 68.9h0M399.7 74.6h0M366 91.4h0M386.3 96.4h0M366.8 86.7h0M364.4 89.3h0M367 88.2h0M371.6 83.7h0M424.9 76h0M395.4 86.2h0M421.1 63.9h0M408 86.2h0M369 105.8h0M432.9 90.5h0M331.9 97.8h0M375.9 105.9h0M399.1 78.7h0M385.3 74.2h0M408 83.8h0M371.2 87.1h0M382.9 91.4h0M400.4 99.9h0M364.3 82.7h0M419 92.7h0M396.6 72.2h0M384.2 73.4h0M378.1 100.4h0M383.2 101.2h0M403.2 84.8h0M359.5 66.5h0M420 76.8h0M389.4 87.3h0M417.8 103h0M411.9 93.6h0M406.8 102h0M389.2 87.4h0M387 92.8h0M369.7 102h0M384.9 81.1h0M385.1 79.2h0M393.2 89.3h0M399.1 126.8h0M391.2 89.6h0M421.7 93.4h0M386.5 106.4h0M349.6 100.2h0M376.1 73h0M401.7 91.8h0M380.6 107.4h0M349.9 91.5h0M425.6 108.6h0M394.4 67h0M390.6 105h0M385.9 88.4h0M354 116.2h0M364.9 87.7h0M400.9 85.1h0M368.9 102.5h0M402 89.6h0M388.1 105.6h0M364.5 78.3h0M424.4 80.3h0M392.8 89.5h0M361 89h0M405.9 91h0M389.6 118.1h0M350.2 77.6h0M412.4 89.2h0M423.1 81h0M367.5 68.4h0M380.3 107.5h0M373.7 107.8h0M397.2 98.4h0M426.3 117h0M438.8 91.3h0M417.2 83.1h0M401.5 85.3h0M334.2 84h0M369.6 84h0M395.2 83.2h0M395.9 99.5h0M344.3 88.8h0M397.7 102.8h0M422.3 94.1h0M342 78.1h0M372.3 122.2h0M356.4 85.5h0M416.1 90.7h0M424.7 74.5h0M434.7 69.9h0M373.3 97.3h0M366.9 98.3h0M348.6 94.1h0M409.3 112.5h0M385.9 84.9h0M416.6 100.4h0M428.1 115.9h0M390.6 120.7h0M390.6 78.1h0M423 88h0M409.9 85.5h0M397.5 103h0M358.2 115.6h0M409.7 93.5h0M389.4 96.6h0M387.2 83.2h0M394.1 90.7h0M368.8 74h0M390.7 94.5h0M370.5 55.9h0M433.3 95.8h0M395 76.3h0M404.3 87.6h0M389 85.8h0M411.4 139.1h0M393 76h0M368.3 107.2h0M362.3 89.1h0M348.7 87.1h0M377.2 85.1h0M398.8 70.7h0M372.3 67.2h0M411.9 71.8h0M389.8 86.3h0M385 99.4h0M386.9 90.3h0M385.5 111.1h0M394.5 95.4h0M380.2 95.7h0M424.4 96.6h0M354.4 84.7h0M391 112h0M389.5 92.4h0M403.3 76.7h0M379.1 61.5h0M375.6 90h0M371.6 68.1h0M379.4 104.4h0M395.3 116.9h0M392.6 92.9h0M357.8 79.5h0M373.5 88.8h0M397.3 108.1h0M383.1 102h0M378.6 79.6h0M383.4 105.9h0M397.9 79.2h0M387.2 87.7h0M396.9 102.7h0M386.5 86.8h0M342.3 97.6h0M406.7 79.5h0M355.2 91.6h0M355.2 73.5h0M405 88.7h0M378.7 98.7h0M374.2 81.7h0M402.2 67.4h0M394.3 77.7h0M425.7 52.5h0M363.1 78.4h0M347.5 87.4h0M404.9 86.3h0M377.4 75.6h0M404.6 79.2h0M383.4 105.4h0M422.1 73.3h0M376.7 108.4h0M432.4 105.7h0M389.6 103.4h0M370 96.9h0M333.2 97.2h0M414.1 89.2h0M403.2 92.3h0M344.9 88.2h0M456.9 102h0M351 100.1h0M368.8 110.3h0M406.8 85.2h0M366.6 82.9h0M385.8 84.8h0M427.9 84.3h0M383.6 93.3h0M405.1 104.4h0M331.3 105h0M395.5 78.5h0M370.3 88.3h0M384.4 79.2h0M401.6 117h0M360.4 96.9h0M395.3 85.5h0M415.4 68.6h0M382.6 78h0M398.4 75.3h0M395.2 80.9h0M391.4 89.5h0M360.7 108.7h0M397.8 81.7h0M357.9 70.9h0M386 77.1h0M379.8 72.5h0M389.5 96.5h0" stroke="#088e1e" stroke-width="2.70" stroke-linecap="round" fill="none"/>
<path d="M355.5 106h0M368.8 107.1h0M359.4 105h0M364.4 112.7h0M368.1 106.1h0M367.4 109h0M371.5 103.6h0M369.6 108.3h0M376.8 107.1h0M366.6 107.2h0M375 109.9h0M364 106.8h0M367.9 103.8h0M366.6 108.8h0M364.2 105.4h0M367.1 102.2h0M367.4 103.6h0M360.8 107.5h0M368.5 105.7h0M362.2 110.9h0M369.2 109.6h0M364.6 106.2h0M372.2 104h0M372.8 109.4h0M373.2 112h0M370 110.6h0M368.3 104.4h0M362.8 104.1h0M359.6 109.6h0M370 106.2h0M360.5 105.6h0M363.2 105.9h0M361.9 103.7h0M364.4 103.9h0M367.2 105.5h0M361 106.3h0M364.7 109.3h0M367 104.2h0M359.6 107.5h0M364.2 106h0M367 106.1h0M364.8 103.8h0M354.3 104.3h0M361.3 108.7h0M380.7 104.7h0M359 108h0M364.2 107.4h0M362.5 107h0M365.5 105.9h0M367 103.6h0M365.5 111.1h0M370.7 108.4h0M364.7 102.9h0M363.5 103.5h0M368.8 105.1h0M373.5 104.6h0M367 101.6h0M360.5 100.6h0M379.3 111.6h0M368.6 103.7h0M371 109.2h0M368.5 108.1h0M359.4 105.9h0M370.5 105.3h0M368 106.3h0M368.9 106.2h0M371.2 107.5h0M368.1 103.6h0M354.6 107h0M363.3 103.3h0M362.9 105.5h0M356.3 103.9h0M364 105.7h0M369.8 108.2h0M365.5 106.7h0M373.3 110h0M357.4 105.1h0M368.4 107.1h0M359.1 103.6h0M358.1 105.5h0M361.6 103.7h0M356.2 106h0M356.7 106h0M365.4 110.3h0M360 109.2h0M362.9 103.3h0M363.6 107.2h0M369.8 108h0M359.3 104.1h0M364.3 107.5h0M359.1 105.7h0M367 106.2h0M366.6 105.9h0M368.5 102.9h0M358.4 107.2h0M372 105.3h0M363.8 105.9h0M361 107.1h0M368.8 109.7h0M363.1 105h0M372.2 106.9h0M367.8 108.6h0M371.4 111.1h0M368.2 108.5h0M372.1 105h0M363.6 104.5h0M349.1 103.9h0M353.3 107.1h0M369.3 104h0M372.2 108.8h0M363.4 106.8h0M358.8 106.1h0M360.8 104.5h0M364.5 104.3h0M367.8 107.1h0M371.1 104.9h0M353.8 103.1h0M362.7 102.9h0M376.1 105.2h0M364.8 107.7h0M352.7 105.6h0M359.9 104.1h0M357.3 105.7h0M364 105.7h0M365.8 108.4h0M363.6 109.2h0M369 105.1h0M365.1 103.4h0M367.7 106.3h0M375.2 112.8h0M370.7 109.1h0M360.8 103.5h0M360.4 109.8h0M357.4 99.9h0M365.9 106.7h0M367.2 102.6h0M363.2 100.9h0M363.6 111.9h0M371.5 108.1h0M368.7 107.6h0M355.9 107h0M374.5 105.6h0M363.7 109.9h0M369 104.9h0M374.5 106.9h0M365 105.9h0M374.3 110.3h0M373.3 105.4h0M372.1 102.2h0M366.5 109.4h0M370.7 106h0M371.1 109.4h0M369.5 106.3h0M363.8 109.6h0M360.1 104.8h0M358 103.7h0M362.4 102.5h0M366.2 105.6h0M361.1 105.6h0M373.4 103.9h0M360.7 104.4h0M367.6 105.9h0M369 104h0M368.1 106.7h0M354.1 105.5h0M364.3 111.9h0M366 105.9h0M364.1 105h0M365.9 102.2h0M354.3 104.8h0M368.1 106.2h0M358.7 110h0M364.3 103.8h0M359.9 107.3h0M369.8 109.7h0M352.1 103.9h0M359.6 108.1h0M366.5 107.7h0M358.6 103.2h0M365.5 110.1h0M357.9 107.1h0M372 108.8h0M370.3 105.4h0M363.5 109.8h0M371.6 108.1h0M361.8 108.4h0M366.5 106.7h0M356.5 105.5h0M359.4 105.5h0M361.1 105.2h0M360.6 110.8h0M362.6 107.5h0M356.5 104.9h0M382.4 105.1h0M357 105.5h0M368.5 110.2h0M361.8 102.1h0M361.4 105.8h0M362.3 107.5h0M375.5 111h0M370.8 108.1h0M364.6 107.8h0M373.2 109.7h0M359.3 104.7h0M366.5 103.6h0M375.6 103.6h0M361.6 107.8h0M357.7 104.6h0M381.6 107.5h0M358.2 106.6h0M360.5 109h0M386.1 107.8h0M362.7 103.3h0M369.4 109.2h0M359.4 108.6h0M363.5 105.6h0M365.5 105.3h0M369.7 106.4h0M362.8 105.7h0M373.2 108.3h0M367.3 106.5h0M362.3 107.2h0M371.2 108h0M359.8 105.3h0M372.4 106h0M372.5 106.8h0M358.5 103.8h0M362.2 106.9h0M375.9 108.5h0M354.9 105.2h0M366.3 110.2h0M367.2 103.2h0M367.3 107.3h0M359.6 106.8h0M359.7 106.8h0M377.6 107.9h0M376.6 108.3h0M364.9 110.5h0M357.3 106.2h0M361 104.3h0M364.4 104.7h0M367.8 105.4h0M365.5 108h0M362.2 107h0M357.6 105.5h0M383.6 111.5h0M365.4 107h0M371.9 102.5h0M368.6 108.4h0M356.7 104.4h0M361.1 105.9h0M356.1 110h0M344.6 112.9h0M347.8 108.7h0M372.5 111.8h0M371.1 110.9h0M360 113.6h0M380.1 115.3h0M360 108.4h0M349.9 113.4h0M359.9 114.3h0M366.2 109.9h0M361.8 105.6h0M344 109.2h0M350 110h0M366.5 106h0M363.3 109.9h0M350.9 111.6h0M362.5 114.1h0M361.9 109.2h0M356.9 105.7h0M365.4 110.2h0M364.7 103.7h0M362.7 114.1h0M370.4 110h0M358.5 114.6h0M359.3 109.7h0M368.9 104.1h0M360.5 109.9h0M350.1 110.3h0M341.4 108.3h0M355.7 108.3h0M373.2 113.3h0M343 108.1h0M359.5 113.5h0M342.9 117.3h0M356.1 113.7h0M360.9 125.6h0M368 125.1h0M372.8 127.5h0M364.4 120.4h0M380 118.9h0M389.5 117.3h0M354.9 124.4h0M350.1 111.3h0M347.7 107h0" stroke="#1a1a1a" stroke-width="2.70" stroke-linecap="round" fill="none"/>
<path d="M343.6 73.4h0M344.9 86.9h0M350.2 90.5h0M347.2 97.6h0M347.5 104.8h0M352.6 103h0M356.2 107h0M357.9 108h0M363.7 113.8h0M366.4 115.6h0M370 113.8h0M378 103h0M378.9 111.1h0M379.8 113.8h0M383.4 117h0M354.7 124.2h0M389.7 115.6h0M343.6 73.7h0M382.4 74.9h0M395.5 69.4h0M407.5 70.6h0M436.2 85.5h0M413.5 72.6h0M354.9 125.1h0" stroke="#fa1010" stroke-width="2.70" stroke-linecap="round" fill="none"/>
<path d="M405.2 89.9h0M388.7 80.4h0M426.8 97.7h0M407 89.4h0M423.9 69.4h0M390.9 88.6h0M397.8 100.1h0M418 99.4h0M388.8 99.9h0M408.8 72.5h0M384 111.4h0M387.3 87.1h0M388.8 91.9h0M358.3 75.2h0M366.4 88.1h0M365.5 60.9h0M379.8 66.3h0M384.3 65.4h0M387 72.5h0M386.1 78.8h0M393.3 76.1h0M397.7 86h0M403.1 80.1h0M405.8 81.9h0M398.6 93.2h0M401.3 95.9h0M405.8 95.9h0M394.2 98.5h0M395.1 102.1h0M397.7 104.8h0M403.1 103h0M411.2 89.6h0M413.9 86.5h0M419.3 85.1h0M422.8 79.7h0M413 98.5h0M422.8 98.5h0M405.8 118.3h0M385.2 81.5h0M380.5 46.7h0M365.6 60.6h0M396.7 112.5h0M414.6 106.5h0M420.6 114.9h0M429 88.6h0M423 80.2h0M431.4 67.8h0M422.5 63.5h0M450 93.6h0M431 68h0M420 115.6h0M405 118h0" stroke="#1010fa" stroke-width="2.70" stroke-linecap="round" fill="none"/>
<rect x="273.6" y="20" width="62" height="43" rx="1.2" fill="#fff" fill-opacity="0.9" stroke="#ccc" stroke-width="0.6"/>
<g class="l" font-size="8.1">
<circle cx="283.6" cy="27.4" r="1.15" fill="#0c9a34" stroke="none"/><text x="288" y="30.3">Pass</text>
<circle cx="283.6" cy="37.2" r="1.15" fill="#262626" stroke="none"/><text x="288" y="40.1">Withdraw</text>
<circle cx="283.6" cy="47.2" r="1.15" fill="#fa2424" stroke="none"/><text x="288" y="50.1">Fail</text>
<circle cx="283.6" cy="57.2" r="1.15" fill="#2424fa" stroke="none"/><text x="288" y="60.1">Distinction</text>
</g>
<text class="t" x="272" y="12.6" font-size="8.05">BBB_2014J</text>
</g>
<g id="plot3">
<polygon points="35.1,318.3 97.4,283.8 96.4,217.8 30.6,248.8" fill="#f8f8f8" stroke="#f8f8f8" stroke-width="0.5"/>
<polygon points="97.4,283.8 198.4,303.1 202.6,235.1 96.4,217.8" fill="#f0f0f0" stroke="#f0f0f0" stroke-width="0.5"/>
<polygon points="35.1,318.3 141.3,340.8 198.4,303.1 97.4,283.8" fill="#f4f4f4" stroke="#f4f4f4" stroke-width="0.5"/>
<path d="M48.2,321.1 L109.9,286.2 L109.5,219.9 M62.5,324.1 L123.5,288.8 L123.8,222.3 M76.9,327.2 L137.3,291.4 L138.2,224.6 M91.5,330.3 L151.2,294.1 L152.9,227 M106.3,333.4 L165.2,296.8 L167.7,229.4 M121.3,336.6 L179.5,299.5 L182.7,231.9 M136.5,339.8 L193.9,302.2 L197.8,234.3 M145.2,338.3 L39.3,316 L35,246.7 M152.3,333.6 L47,311.7 L43.2,242.9 M159.3,329 L54.6,307.5 L51.2,239.1 M166.1,324.5 L62.1,303.4 L59.1,235.3 M172.8,320 L69.4,299.3 L66.9,231.7 M179.4,315.7 L76.6,295.3 L74.5,228.1 M185.9,311.4 L83.7,291.4 L82,224.6 M192.3,307.2 L90.7,287.5 L89.3,221.1 M35,316.9 L97.4,282.5 L198.5,301.7 M34.4,308.6 L97.3,274.5 L199,293.6 M33.9,300.2 L97.1,266.5 L199.5,285.3 M33.3,291.6 L97,258.4 L200,276.9 M32.8,283 L96.9,250.1 L200.6,268.5 M32.2,274.2 L96.8,241.8 L201.1,259.9 M31.6,265.3 L96.6,233.4 L201.6,251.2 M31,256.3 L96.5,224.8 L202.2,242.4" fill="none" stroke="#b2b2b2" stroke-width="0.71"/>
<path d="M35.1,318.3 L141.3,340.8 L198.4,303.1 L202.6,235.1" fill="none" stroke="#111" stroke-width="0.64" stroke-linejoin="round"/>
<path d="M47.7,321.4 L49.3,320.5 M61.9,324.5 L63.6,323.5 M76.4,327.5 L78,326.6 M91,330.6 L92.6,329.6 M105.8,333.8 L107.4,332.8 M120.8,336.9 L122.4,335.9 M136,340.2 L137.6,339.1 M146.1,338.5 L143.3,337.9 M153.2,333.8 L150.4,333.2 M160.2,329.2 L157.4,328.6 M167,324.6 L164.3,324.1 M173.7,320.2 L171,319.7 M180.3,315.8 L177.6,315.3 M186.8,311.5 L184.1,311 M193.2,307.3 L190.5,306.8 M199.4,301.9 L196.7,301.4 M199.9,293.7 L197.2,293.2 M200.4,285.5 L197.7,285 M200.9,277.1 L198.2,276.6 M201.5,268.6 L198.7,268.1 M202,260 L199.3,259.6 M202.5,251.3 L199.8,250.9 M203.1,242.5 L200.3,242.1" fill="none" stroke="#222" stroke-width="0.90"/>
<g class="t" font-size="6.15" text-anchor="middle">
<text x="43.4" y="334.7">0</text><text x="57.6" y="337.8">10</text><text x="72.1" y="340.9">20</text><text x="86.7" y="344.1">30</text><text x="101.5" y="347.3">40</text><text x="116.5" y="350.5">50</text><text x="131.7" y="353.8">60</text><text x="153.6" y="350.9">−50</text><text x="160.6" y="346.1">−40</text><text x="167.5" y="341.5">−30</text><text x="174.3" y="336.9">−20</text><text x="180.9" y="332.4">−10</text><text x="187.4" y="327.9">0</text><text x="193.8" y="323.6">10</text><text x="200.1" y="319.3">20</text><text x="210.6" y="305.1">−60</text><text x="211.2" y="296.9">−50</text><text x="211.8" y="288.7">−40</text><text x="212.4" y="280.3">−30</text><text x="213" y="271.9">−20</text><text x="213.6" y="263.3">−10</text><text x="214.2" y="254.6">0</text><text x="214.8" y="245.8">10</text>
</g>
<path d="M84.9 253.3h0M82.1 246h0M97.2 250.4h0M89.6 246.5h0M95.8 243.3h0M89.2 248.1h0M106.8 243.5h0M94.7 243.6h0M86.1 253.3h0M97.8 243.7h0M95.1 246.9h0M96 240.7h0M107.3 241.6h0M105.4 239.4h0M94.2 247.5h0M106 241.7h0M96.3 244.2h0M93.2 249.8h0M89.6 239h0M91.4 246.7h0M93.8 247.4h0M95.1 247.3h0M97.5 243h0M80 256.3h0M107.2 253.8h0M96.8 255h0M97.1 243.6h0M92.8 258.7h0M90 247.4h0M93.6 253.8h0M100.8 246.6h0M92.9 249.3h0M100.1 242.8h0M112.8 246.7h0M96.8 246.6h0M102.2 242.8h0M97 244.7h0M95.8 244.3h0M95.8 250.3h0M105.2 245.7h0M99.3 252.9h0M100.1 246.9h0M88 250.2h0M101.5 251.4h0M92.6 252.3h0M88.7 253.9h0M84.1 244.2h0M93.1 246.5h0M113.2 244.3h0M82.3 252h0M105.3 237.1h0M106.8 254h0M104.2 242.8h0M94.5 249.3h0M98.8 244.7h0M108.3 248.5h0M95.9 245.4h0M90 245.5h0M93.1 243.9h0M97.9 246.7h0M94.2 247.6h0M91.7 248.3h0M94.8 258.8h0M95.3 254.4h0M105.4 246.8h0M87.3 251.9h0M92 252.3h0M92.3 248h0M92.9 249.2h0M92.2 254h0M108.7 255.1h0M108 253.7h0M93.8 254.6h0M104.3 245.7h0M88.8 250.9h0M95.8 247.1h0M96 247.2h0M87.3 245h0M105.2 238.9h0M97.6 240.4h0M101.7 241.1h0M83.7 248.8h0M95.9 254.3h0M94.1 245.5h0M96.9 241.1h0M98.2 238.9h0M89.9 250.7h0M94.9 253.9h0M98.3 254.9h0M105.2 249.8h0M107.2 240.6h0M100.9 238.2h0M105.4 248.9h0M92.1 243.3h0M87.9 249.7h0M90.2 240.7h0M100.4 248.9h0M96.1 255.6h0M87.3 252.1h0M95.9 250.9h0M96 246.6h0M95.9 252.1h0M91.3 250.2h0M96.8 250.5h0M100.9 245h0M96.7 259h0M76.8 243.9h0M89.4 248.9h0M89 249.1h0M100.9 251.3h0M97.5 253.6h0M109.7 250h0M103.5 251.8h0M101.8 248.2h0M115.9 247.1h0M97.5 249.5h0M90.5 243.4h0M98.6 247.2h0M99.3 249.7h0M96.6 247.3h0M91.1 249.8h0M109.2 240.2h0M88.1 244.8h0M108.4 250.5h0M95.9 251.1h0M88.9 244.3h0M106.8 243.8h0M93.5 244.1h0M94.7 246.2h0M94.6 243.5h0M90.5 247.1h0M93.5 255.5h0M89.6 250.6h0M84.5 246.5h0M91.7 251.9h0M94 251.3h0M90.8 252.5h0M87.6 251.2h0M85.9 244.9h0M89.6 243.8h0M94.9 244.7h0M84.8 252.3h0M93.7 248.4h0M88.7 246.8h0M92.6 247.6h0M84.6 250.6h0M91.1 255.2h0M96.8 248.8h0M89.9 245.2h0M95.2 248.4h0M84.5 253.8h0M93.7 257.3h0M89.8 245.2h0M88.5 255.3h0M88.2 250.5h0M82 247.9h0M88.4 244.7h0M87.8 248h0M87.1 248.3h0M94.1 254.3h0M88 251.6h0M94.5 247.9h0M95.7 252.7h0M88.3 248.9h0M91.1 250.3h0M87.8 258.3h0M86 253.8h0M85.3 252.2h0M86.8 248.9h0M92 242.8h0M90.7 250.4h0M88 254.5h0M83.7 245.6h0M93.7 243.4h0M86.9 253.9h0M97.1 250.5h0M87 255.1h0M82.7 245.5h0M93.4 252.7h0M89.7 252.4h0M96.2 247.3h0M92.3 249h0M91.7 250.6h0M87.8 250.8h0M93.3 256.8h0M87.3 245.6h0M89.3 246.7h0M89.4 247.9h0M92 252h0M92.1 252.9h0M87.4 245.8h0M87.3 244.4h0M82.3 246.1h0M91.3 246.2h0M87.4 242.6h0M90 245.2h0M84.9 256.4h0M92.2 251.7h0M88.3 252.8h0M87.2 249.9h0M90.9 256.2h0M87 249.5h0M88.6 247.6h0M89.1 251h0M90.1 249.1h0M92.9 249.3h0M89.3 252.8h0M92.5 255.2h0M88.7 250.9h0M95.4 246.7h0M87 254h0M86.9 252.2h0M82.9 251.5h0M86.8 246.6h0M84.8 247.2h0M91.5 247.1h0M89.1 244.1h0M88.3 251.8h0M95 250.6h0M91.5 248.1h0M89.6 254.9h0M89.7 248.7h0M84.6 245.8h0M93.1 245.5h0M89.6 253.6h0M88.9 247h0M91.6 259.4h0M86.4 255.9h0M97.4 249.3h0M88.6 242.3h0M88.2 248.8h0M89.3 241.7h0M92.5 249.4h0M89.2 253.2h0M84.6 247.5h0M84.3 255.8h0M91.4 249.5h0M94.7 250.3h0M95 248.2h0M87.2 251.7h0M92.1 258.2h0M87 253.9h0M90.8 248h0M86.7 256.7h0M84.7 250.9h0M92.3 244.9h0M89.3 253.1h0M91.7 255.4h0M92.5 253.1h0M86.9 242.5h0M95.3 249h0M90.9 248.4h0M85.7 250.7h0M93.6 246.4h0M86.2 242.8h0M88.8 250h0M93.9 246.1h0M90.6 254.3h0M92.5 244.2h0M92 243.7h0M86.1 243.8h0M91.6 250.4h0M91.6 247.9h0M89.3 256.7h0M89.4 251h0M94 251h0M87.7 247.7h0M87.6 251.9h0M94.1 247.9h0M90.2 255.8h0M86 247.4h0M90.1 257.9h0M95.4 245.3h0M89.3 248.2h0M81.5 247.5h0M95.1 254.5h0M91.8 247.3h0M92.4 245h0M88.8 244h0M93.3 247.1h0M88.8 252.7h0M94.8 248.1h0M90.7 248.1h0M91.2 249.9h0M93.6 247h0M94.3 251.2h0M93.6 251.9h0M88.8 251.1h0M90.1 253.4h0M90.2 247.5h0M92.9 249.3h0M80.8 251.4h0M86.6 250.9h0M89.2 247.4h0M90.9 253.6h0M92.9 250.2h0M84.8 245.5h0M90.7 243.6h0M91.8 252.6h0M88.6 251.5h0M92.3 252.4h0M95.2 248.8h0M84.3 249.7h0M88.5 250.6h0M93.6 253.8h0M88.3 252.4h0M88.4 255.2h0M93.5 258.6h0M92.3 248.6h0M95.6 255.8h0M88 250.8h0M82.4 253.1h0M92.3 250.4h0M84.9 252.1h0M91.6 249.4h0M87.4 249h0M91.9 244.6h0M88.2 255.5h0M90.3 252h0M84.5 245.4h0M89.1 244.5h0M86.6 251.9h0M91.8 245.6h0M83.2 247h0M88.7 251.5h0M94.3 252.9h0M94.2 245.1h0M96.1 248.1h0M88.2 247.8h0M91 251.8h0M92.1 248.7h0M85.1 248.9h0M91.5 245.9h0M86.6 253.3h0M92 247.2h0M88.5 245.6h0M92.3 251.8h0M92.4 252.4h0M84.3 246.1h0M84.7 254.6h0M87.8 248.9h0M93.5 249.6h0M93.7 248.1h0M90.5 247.3h0M96.3 253.2h0M94.3 249h0M86.2 255.4h0M95.5 251h0M87.9 257.6h0M93 247.9h0M84.6 259.6h0M91.6 270.1h0M95.9 279.8h0M95 281.2h0M97 277.7h0M97.5 259.2h0M97 276.5h0M101.6 259.6h0M91.1 260.4h0M104.3 292.2h0M102.7 286.3h0M98.5 270.8h0M101.5 289.2h0M91.2 260.3h0M101.7 273.7h0M87.5 272.8h0M103 290.1h0M104 278.3h0M105 263.6h0M100.8 263.6h0M97.6 276.8h0M96.5 293.1h0M99.1 270.6h0M93.5 257.8h0M101.9 292.3h0M98.2 290h0M96.4 278.9h0M99.1 292.9h0M99.5 255.3h0M101.1 292.7h0M96.8 264.7h0M100.7 272.6h0M106.6 284.9h0M110.4 267h0M82.1 257.5h0M96.9 276.4h0M89.1 259h0M95.6 285.3h0M102.2 259h0M96.7 282.8h0M99.5 261.3h0M96.7 281.1h0M90.2 279.5h0M98.3 289.9h0M106.5 258.6h0M106.6 290.1h0M97.9 269.9h0M101.3 274h0M93.2 263.7h0M100.1 259.3h0M104.5 291.8h0M89.8 256.6h0M100.2 268.1h0M110.8 261.5h0M94.2 265.4h0M107.5 259.7h0M104.2 286.5h0M88.4 262.9h0M90.4 265h0M93.2 262.7h0M99.4 272.5h0M100.1 288.7h0M98.2 261.3h0M109.7 271h0M99.3 284.8h0M96 261.1h0M93.2 259.1h0M88.9 265h0M100.9 282.7h0M101.3 288h0M93.9 258.7h0M99.4 277h0M102.5 269.8h0M96.4 272.9h0M93.9 259.8h0M85.2 259.7h0M93.8 271.6h0M90.7 262.4h0M95.2 257.8h0M105 286.3h0M100.7 264.9h0M103.2 263.1h0M102.3 282.8h0M103.6 259.5h0M111.1 276.1h0M100.5 247.2h0M112.7 252.8h0M102.2 263.6h0M107.3 248.5h0M114.1 258.3h0M109.1 248h0M105.6 230.2h0M109.2 257.7h0M97.2 245.8h0M107.9 247.6h0M108.2 241.1h0M100.9 248.2h0M97.9 253.7h0M107.5 248.8h0M111.8 247.5h0M102.9 236.3h0M108.2 256.8h0M96.5 245.2h0M107.6 252.9h0M108.8 250.9h0M102.5 261.8h0M108.7 257.7h0M105.5 247.6h0M103.6 254.3h0M103.3 250.3h0M115 240.5h0M123.4 244.1h0M134.1 242.9h0M136.5 254.9h0M142.5 266.1h0M134.1 278.1h0M128.1 289.1h0M125.3 290.7h0M144.9 292.7h0M150.4 297.2h0M142.5 306.3h0M131.7 307.5h0M109 309.2h0M147.3 310.6h0M159.2 317h0M111.4 247.7h0M117.4 250.1h0M121 253.7h0M116.2 260.9h0M119.8 269.2h0M117.4 267.6h0M112.6 253.7h0M124.5 262.1h0M130.5 248.9h0M110.2 241.7h0M114.5 246h0" stroke="#088e1e" stroke-width="2.55" stroke-linecap="round" fill="none"/>
<path d="M88.1 241.8h0M101.7 240.9h0M98.7 242.5h0M93.4 241.7h0M105.4 242.3h0M96.1 241.3h0M104.2 240.9h0M88.8 241.7h0M90.5 242.2h0M99.8 241.9h0M107.7 240.6h0M98.7 242.2h0M102.9 239.6h0M101.6 240.2h0M97.1 241.4h0M100.4 240.8h0M105.4 240.2h0M95 241.6h0M97.8 241h0M100.1 241.6h0M89.5 242.8h0M100.3 242.7h0M95.8 242h0M102.4 241.4h0M95.1 242.5h0M88.8 241.5h0M104.7 244.1h0M96.5 250.4h0M96 253h0M100.6 249.9h0M104.7 246.2h0M103.3 247.2h0M99 247.1h0M94.8 242h0M91.1 244.4h0M93.4 247.7h0M83.9 246.7h0M98.2 249.4h0M94 245.5h0M87.4 249.8h0M97.3 249h0M97.3 248.8h0M94.7 247.3h0M94.7 243.7h0M92.6 243.6h0M101.8 245.8h0M89.8 241.7h0M99 245.9h0M90.8 243.2h0M93.4 247.7h0M89.5 247h0M97.9 252.3h0M103.2 247.2h0M92.6 251.2h0M88.4 246.8h0M80.6 240.5h0" stroke="#1a1a1a" stroke-width="2.55" stroke-linecap="round" fill="none"/>
<path d="M96 244.7h0M103.9 243.7h0M93.2 247.7h0M84.7 248.7h0M94.8 244.3h0M93.5 242.7h0M88.3 239.3h0M93.3 243.2h0M86.7 244.1h0M101.2 240.5h0M95.7 245h0M87.5 248.1h0M95.7 242.1h0M90.2 244.5h0M144.9 274.5h0M114.5 274.7h0M78.6 249.4h0M79.6 253.7h0M111.4 253.2h0M100.6 275.2h0" stroke="#fa1010" stroke-width="2.55" stroke-linecap="round" fill="none"/>
<path d="M95.1 253.7h0M84.6 249.8h0M95.3 246.4h0M88.3 252.8h0M85 249.8h0M88.2 251.1h0M93.5 249.8h0M92.3 254.4h0M85.7 252.2h0M92 243.7h0M93.2 245.6h0M89.7 245.8h0M90.7 253.5h0M90.8 249.4h0M90.3 253.7h0M90 251h0M85.5 246.7h0M88 254.3h0M86.1 253.7h0M95.5 250.5h0M91.9 249.8h0M87.9 252.8h0M83 248h0M91 249.3h0M94 250.4h0M94.1 246.3h0M94.2 248.9h0M88.3 247.3h0M88 253.9h0M91.2 251.2h0M90.2 242.8h0M90.5 245.9h0M91.9 253.5h0M91.1 245h0M86.3 252.5h0M87.5 246.7h0M83.6 255h0M92.4 245.7h0M94.9 245.2h0M92.3 244.9h0M88.3 243.4h0M93.4 246.8h0M86 254.4h0M91.6 254.7h0M90.7 247.5h0M91 251.3h0M87.5 250.1h0M88.7 256.9h0M89.7 252.8h0M89 245.9h0M91 254.2h0M87 246.4h0M91.2 255.4h0M88.7 251h0M86.2 246.3h0M94.4 252.4h0M88.8 250.8h0M89.2 255.1h0M93.7 253.8h0M90.9 248.7h0M89.7 253.1h0M89.9 254.5h0M96.4 251.3h0M88.4 246h0M95.7 247.4h0M88.7 245.4h0M90.2 252.9h0M86.7 250.7h0M88.5 250.8h0M91.9 251.3h0M89.4 253.8h0M87 247.4h0M92.2 249.5h0M91.6 247.7h0M89.7 246.9h0M83.7 250.8h0M89.7 248.1h0M87.7 253.6h0M87.8 255.3h0M94.8 247.6h0M93.2 257.5h0M88.9 251.2h0M93.4 251.5h0M94.9 250.6h0M91.4 245.9h0M92.1 247.4h0M90.9 254.1h0M94.4 245.1h0M87 256.1h0M93.6 251.1h0M91.2 256.7h0M95 245.5h0M84.2 249.3h0M83.8 249.4h0M94.9 247.4h0M87 255.8h0M88.3 256.6h0M89.1 253.4h0M88.1 243h0M89 254.9h0M91.2 254.1h0M93.3 246h0M87.8 253h0M89.3 246.1h0M93.5 245.7h0M93.3 254.9h0M92.2 252.7h0M90.2 252.9h0M92.1 252.5h0M92.2 245.5h0M85.9 250.3h0M91.5 248.6h0M92.7 245.8h0M85.1 254h0M91.3 248.7h0M85.8 255.6h0M85.6 251.4h0M86.3 247.2h0M88.9 242.3h0M89.6 254.6h0M89.4 245.6h0M96 250.2h0M90.8 249.9h0M86.7 253.9h0M95.4 252h0M83.4 247.3h0M91.2 256h0M90.6 251.4h0M84.1 250.7h0M87.3 248.3h0M89.6 253h0M88.1 254.5h0M85.6 251.9h0M91 253.6h0M91.4 251.3h0M91.7 255.9h0M93.6 255.4h0M90.9 249h0M87.6 253.3h0M91 254.6h0M91.7 247.4h0M87.3 250h0M89.7 249.8h0M87.2 251.4h0M87.2 252.3h0M92.1 247.1h0M90.3 253.9h0M91.1 247.2h0M85.5 252.9h0M88.4 251.6h0M90.9 246.3h0M93.8 253.6h0M92.1 250.5h0M87 254.4h0M92.8 249.7h0M86.2 247.9h0M85.7 253.7h0M89.6 250.7h0M94.2 250.2h0M85.5 245.6h0M93.8 247.4h0M87.6 254.3h0M85.2 249.1h0M83.9 249.2h0M94.8 252.2h0M91.8 248.2h0M93.5 253.1h0M87.8 248.1h0M93.1 247.8h0M86.5 252.9h0M90 242.7h0M85.2 253.3h0M89 243.7h0M90.4 249.9h0M91.7 244.5h0M88.7 246.3h0M89.6 250h0M84.7 248.2h0M83.7 246.9h0M93.4 254.6h0M86.9 253.5h0M85.2 249h0M86.9 255.3h0M89.5 246.9h0M91.4 244.6h0M92.8 250.6h0M93.9 249.7h0M84.2 255.1h0M90.8 251.7h0M95.8 254.4h0M90.5 248.5h0M88.3 249.4h0M87.3 250.6h0M83.3 251h0M88.1 255.2h0M87.6 246.3h0M88.8 245.8h0M87.5 250.6h0M89.9 245.9h0M84.9 252.9h0M88.4 252h0M93.8 255h0M94.7 252.4h0M96.1 248.7h0M88.1 250.6h0M89 246.9h0M89.1 248.6h0M86.9 243.3h0M90.6 248.5h0M91.8 251.1h0M85.8 247.6h0M86.1 255.8h0M86.8 244.5h0M90.9 252.9h0M92.9 250.8h0M84.9 246.4h0M94.2 249.5h0M90.7 251.1h0M86.1 253.7h0M86.2 249.4h0M91.4 250.8h0M84.5 250.6h0M90.7 255h0M93.2 245.6h0M86.1 250.5h0M89.8 249.2h0M88.1 249.8h0M87.7 249.1h0M93 245h0M92.9 253.9h0M85.9 250.4h0M89.1 253.7h0M89.2 251.9h0M86.8 247.2h0M87.2 252.9h0M86 252.2h0M88.7 251.8h0M93.8 255.4h0M84.3 253.8h0M96.3 251.9h0M89.3 258.3h0M96.2 253.7h0M88.1 246.3h0M85.9 255h0M90.6 252h0M91.9 254.6h0M82.9 251.2h0M95.6 246.9h0M94.8 251.5h0M92.5 249.2h0M85.6 248h0M93.4 252.1h0M91.8 255.1h0M85.8 247.8h0M93.9 252.4h0M86.4 246.4h0M93.7 249.9h0M85.1 249.2h0M93.4 248.2h0M93.1 247.8h0M85.9 250h0M89.1 245.7h0M94.2 246.2h0M83.4 251.4h0M85.8 256.6h0M89.8 251.5h0M90.8 251.9h0M86.6 251.2h0M88.9 254.8h0M84.4 252.4h0M93.5 244.4h0M91.9 245.1h0M91.9 256.7h0M90.3 253.9h0M88.9 251.6h0M83.9 245.5h0M89 247.9h0M92 248.8h0M92.8 243h0M92.8 256.6h0M84.5 246.8h0M89.3 251.1h0M92.1 249.3h0M91.4 254.1h0M90.4 250.5h0M91.4 245.6h0M84.5 255.3h0M90.7 255h0M91.1 252.1h0M96.1 247.7h0M88.3 242.7h0M90.2 251.7h0M91.3 257.2h0M87.2 255h0M89.3 252.4h0M85.3 256.1h0M88.3 252.4h0M91 252.6h0M92.7 250.7h0M89.5 248.2h0M88.8 254h0M89.3 249.8h0M89.5 252h0M91.3 247.3h0M84.2 249.9h0M88.6 247.9h0M87.9 252.6h0M90.1 253.2h0M86.1 253.2h0M92.7 244.1h0M92 253.3h0M83.6 247.4h0M89.3 253.5h0M90.7 245.1h0M91.3 246.6h0M86.4 248.1h0M93.2 249.9h0M91.2 247.3h0M86 250.7h0M90.6 248.2h0M85.4 251.7h0M83 253.9h0M90.5 250.2h0M88 252.8h0M92 254.6h0M86 246.2h0M88.7 250.5h0M94.6 251.1h0M86.3 253.1h0M85.8 246.7h0M90.5 248.2h0M89.7 245h0M83.5 248.3h0M88.7 244.7h0M87 243h0M83.5 253.8h0M91.5 257.6h0M93.1 254.6h0M82.6 252.9h0M86.2 243.7h0M92.2 249.7h0M88.1 246.8h0M86.6 249.5h0M91.4 249.5h0M94.2 245.9h0M92.4 243.2h0M90.7 243.8h0M86.1 243.6h0M95.3 247.7h0M94.7 245.6h0M91.4 243.6h0M82.8 251.7h0M89.4 248h0M87.7 248.5h0M83.6 248.9h0M90.4 252.8h0M91.6 250.7h0M87.3 254.1h0M94.9 254.2h0M91.7 249.1h0M88.1 253.7h0M87.5 247.2h0M92.2 248.8h0M88.6 244h0M91.6 250.6h0M84.6 248.3h0M90.9 254.6h0M93.9 246.4h0M86.3 246.4h0M82.9 248.9h0M85.7 252.9h0M90.5 247h0M84 245.2h0M92.3 244.5h0M88.4 255.2h0M94.8 248.7h0M85.9 250.2h0M93.9 256.4h0M91 247.7h0M96.4 250.2h0M89.6 253.7h0M88.5 250.7h0M88.5 247.1h0M84.4 252.2h0M85.9 243.7h0M88.3 243.5h0M91.6 256h0M84.5 252.8h0M88.8 256h0M91.1 247.7h0M84.4 245.5h0M87.6 249.8h0M89.5 248.2h0M95.5 251.2h0M87.3 251.5h0M89.8 249.4h0M90.1 245.5h0M85.7 256.5h0M96.9 252.5h0M89 252.9h0M94.6 253.6h0M87.8 248.8h0M88.1 253h0M88.9 246.1h0M88.7 254.1h0M84 244.9h0M85.6 246.1h0M87.7 255.5h0M86.4 250.2h0M87.7 247.8h0M91.9 255.2h0M94 253.3h0M89.9 246.6h0M90.1 248.5h0M89.7 250.9h0M88.7 255.9h0M87.8 252h0M86.9 244.1h0M86.9 247.9h0M95.2 250.9h0M90.9 256h0M89.9 246.8h0M86 256.9h0M83.9 251.2h0M96.9 251.1h0M88.9 249.7h0M91.7 251.8h0M84 250.9h0M89.7 252h0M84.3 248.4h0M90.5 250.9h0M90 250.9h0M93.9 246.1h0M93.6 247.9h0M85.1 247.7h0M90.8 254.6h0M87.4 249.1h0M86.8 253.1h0M88.6 244.2h0M87.3 246.9h0M86.6 257.1h0M93.2 248.7h0M88.3 250.8h0M84.2 247.6h0M91.6 248.2h0M93.8 252.9h0M86.9 250.8h0M96.2 253.8h0M90.9 253.8h0M93.5 246.3h0M92.9 250.2h0M89.3 253.9h0M91.6 249.8h0M91 252.7h0M85.1 248.1h0M94 247.2h0M86.6 248.5h0M89.3 252.1h0M87.1 247.6h0M89.3 252.3h0M89 254.2h0M87.6 252.3h0M86.5 251.1h0M88.8 256.2h0M83.7 254.4h0M93.5 251.4h0M91.9 250.9h0M93 254.7h0M90.6 257.6h0M89.3 253.2h0M89.8 250.1h0M93.1 254.4h0M93 253.2h0M87.3 250.5h0M89 247.9h0M89.1 249.6h0M87.9 248.5h0M90.6 248.9h0M94.3 246.8h0M89.4 252.2h0M92.4 250.5h0M84.7 251.6h0M88.8 243.1h0M88.8 244h0M94.5 246.3h0M92 253.3h0M87.1 247.8h0M93.5 250.1h0M89.3 253.5h0M91.6 256.9h0M86.3 254.5h0M90 248.5h0M88.3 251h0M93.3 254.4h0M88.8 251.6h0M93.3 251.4h0M88.9 247.3h0M89.2 249.8h0M86.6 249.3h0M91.5 254.2h0M96.3 250.2h0M91.8 252.1h0M88.1 251h0M87.8 244.8h0M87.6 253.9h0M94.7 252.3h0M88.8 250.1h0M88.5 249.3h0M92.4 248.9h0M90.2 250.3h0M86.7 251.3h0M91.2 245.6h0M93 251.3h0M83.9 251.6h0M91.6 245.7h0M86.3 250h0M86.7 246.5h0M84.8 252.3h0M84.5 252.7h0M94.8 253.5h0M92 252.6h0M84.2 245.7h0M89.4 249h0M88.4 254h0M85.2 247.3h0M91 254.2h0M92.3 248.5h0M87.7 250.8h0M85 255.6h0M94.3 244.6h0M93.9 251.4h0M85.8 252.7h0M86.1 245.5h0M96.8 249.6h0M90.2 250.6h0M90.9 247.2h0M84.2 245.9h0M85.4 256.9h0M89.4 253.5h0M89.7 249.1h0M85.9 252.7h0M89.1 248h0M91 251.3h0M91.4 253.2h0M88.3 243.9h0M89.9 251.2h0M93 251.2h0M91.6 249.9h0M86.2 252.5h0M90.4 256.5h0M91.6 252.7h0M92.7 255.3h0M86.6 243.9h0M94.9 252.2h0M86.5 252.8h0M89.2 249.8h0M88.3 253.6h0M90.1 246.1h0M92 247.4h0M94.5 255h0M85.2 244h0M82 250.6h0M95.6 250.4h0M88.6 253.4h0M83.8 257.7h0M87.8 251.8h0M97.8 247.4h0M99.7 255.4h0M86.5 257.5h0M85.6 252.2h0M86.7 263.3h0M88.7 254.3h0M98.4 247.1h0M86.2 253h0M89.4 251.9h0M87.3 256.3h0M93.6 246.1h0M92.6 256.6h0M94.3 252.8h0M81.2 250.5h0M91.9 252.6h0M86.5 245.2h0M86.5 247.6h0M87.1 257.9h0M88.7 260.9h0M88.9 250.4h0M87.4 256.3h0M89.4 254.7h0M86.1 256.8h0M88.1 252.2h0M96.4 251.1h0M79.8 245.1h0M88.4 253.1h0M102.1 261h0M90.5 238.4h0M84.1 257.6h0M90.8 248.3h0M81.1 256.4h0M85.6 258.5h0M79.6 251.4h0M84.4 262.9h0M102.2 277.4h0M93.8 262.2h0M98.2 293.7h0M92.9 278.6h0M101.2 260.9h0M103 286.5h0M101.8 267.9h0M103.8 273.5h0M96.6 273.1h0M98.8 286.7h0M102 280.9h0M81.5 258.3h0M102.9 267.3h0M100.2 279.6h0M99.8 257.2h0M109.6 267h0M99.9 263.6h0M87.4 259.5h0M104.1 277h0M96.8 261.6h0M98.2 276h0M96.8 263h0M102.8 257.9h0M108 280.5h0M101.3 262.6h0M87.4 261.3h0M104.3 290.7h0M107.4 257.1h0M102.5 267.3h0M105.7 276.7h0M98.7 270.9h0M94.4 259.4h0M94.6 265.3h0M105 274.7h0M97.7 257.9h0M101.5 269h0M91.7 264.8h0M106.8 267.3h0M90.8 258.4h0M97.5 263.5h0M102.1 270.8h0M102 280.3h0M100.4 258.6h0M102.4 286.1h0M100.5 257.5h0M105.3 274h0M103.4 283.4h0M90.6 274.6h0M102.2 286.9h0M102.6 288.2h0M108.5 262.2h0M99.7 263.6h0M95.7 269.5h0M106.2 286.5h0M100.3 289h0M103.7 265h0M95.9 285.1h0M87.1 255.6h0M97.3 276.6h0M100.8 287.2h0M103 270.4h0M100.8 288h0M86 265.3h0M94 278.4h0M103.5 261.1h0M91.5 264.4h0M93.7 260.3h0M91 264.2h0M98.5 267.7h0M94.8 260.6h0M104.4 288.7h0M109.3 261.2h0M87 261.9h0M99.2 282.4h0M97.9 281.1h0M101.3 261.5h0M96.9 269.1h0M94.4 256.6h0M92.4 265.8h0M95.3 259h0M105.9 266.8h0M102.2 278.8h0M98.2 271.7h0M102.9 271h0M102 293.4h0M101.8 283.3h0M94.2 267.8h0M89.1 264h0M98.6 273h0M101.1 287.6h0M98.4 293.7h0M99.4 257.7h0M103.6 270.4h0M103.6 276.7h0M104.2 286.8h0M93.6 267.3h0M103.7 282.5h0M92.6 283.2h0M91 278.2h0M90 268h0M92.1 266.2h0M97.8 259.5h0M104.6 275.1h0M96.6 262.5h0M131.7 241.3h0M128.1 248.9h0M143.7 262.1h0M158.7 255.6h0M157.5 286.7h0M117.4 296h0M125.7 295.5h0M121.7 301h0M115.7 302.2h0M124.1 304.4h0M116.7 308.7h0M122.6 250.1h0M128.1 264.4h0" stroke="#1010fa" stroke-width="2.55" stroke-linecap="round" fill="none"/>
<rect x="5.6" y="211.6" width="58.8" height="40" rx="1.2" fill="#fff" fill-opacity="0.9" stroke="#ccc" stroke-width="0.6"/>
<g class="l" font-size="7.7">
<circle cx="15" cy="218" r="1.09" fill="#0c9a34" stroke="none"/><text x="17.6" y="220.8">Pass</text>
<circle cx="15" cy="227.5" r="1.09" fill="#262626" stroke="none"/><text x="17.6" y="230.3">Withdraw</text>
<circle cx="15" cy="237" r="1.09" fill="#fa2424" stroke="none"/><text x="17.6" y="239.8">Fail</text>
<circle cx="15" cy="246.6" r="1.09" fill="#2424fa" stroke="none"/><text x="17.6" y="249.4">Distinction</text>
</g>
<text class="t" x="6.4" y="205" font-size="7.7">CCC_2014J</text>
</g>
<g id="plot4">
<polygon points="290.4,312.8 360.6,274.3 359.4,200.6 285.3,235.3" fill="#f8f8f8" stroke="#f8f8f8" stroke-width="0.5"/>
<polygon points="360.6,274.3 474.2,295.8 478.9,220 359.4,200.6" fill="#f0f0f0" stroke="#f0f0f0" stroke-width="0.5"/>
<polygon points="290.4,312.8 410,337.9 474.2,295.8 360.6,274.3" fill="#f4f4f4" stroke="#f4f4f4" stroke-width="0.5"/>
<path d="M294.6,313.7 L364.6,275.1 L363.6,201.3 M307.6,316.4 L376.9,277.4 L376.6,203.4 M320.6,319.2 L389.4,279.7 L389.6,205.5 M333.8,322 L401.9,282.1 L402.8,207.7 M347.2,324.8 L414.6,284.5 L416.2,209.8 M360.6,327.6 L427.4,287 L429.7,212 M374.3,330.4 L440.3,289.4 L443.3,214.2 M388,333.3 L453.4,291.9 L457,216.4 M401.9,336.2 L466.6,294.4 L470.9,218.7 M412.4,336.3 L293,311.4 L288.1,234 M421.3,330.5 L302.8,306 L298.4,229.1 M430.1,324.7 L312.4,300.8 L308.6,224.4 M438.7,319.1 L321.7,295.6 L318.5,219.8 M447.1,313.6 L330.9,290.6 L328.2,215.2 M455.4,308.2 L339.9,285.6 L337.7,210.8 M463.4,302.9 L348.8,280.8 L347,206.4 M471.4,297.7 L357.4,276 L356.1,202.2 M289.9,305.3 L360.4,267.1 L474.7,288.4 M289.4,297 L360.3,259.2 L475.2,280.3 M288.8,288.6 L360.2,251.2 L475.7,272.1 M288.3,280.2 L360.1,243.2 L476.2,263.9 M287.7,271.6 L359.9,235.1 L476.7,255.5 M287.1,262.9 L359.8,226.8 L477.3,247 M286.6,254.2 L359.7,218.5 L477.8,238.4 M286,245.3 L359.5,210.1 L478.3,229.7 M285.4,236.3 L359.4,201.6 L478.9,221" fill="none" stroke="#b2b2b2" stroke-width="0.80"/>
<path d="M290.4,312.8 L410,337.9 L474.2,295.8 L478.9,220" fill="none" stroke="#111" stroke-width="0.72" stroke-linejoin="round"/>
<path d="M294,314.1 L295.9,313 M306.9,316.8 L308.8,315.7 M320,319.5 L321.9,318.5 M333.2,322.3 L335.1,321.2 M346.6,325.1 L348.4,324 M360,327.9 L361.8,326.9 M373.7,330.8 L375.4,329.7 M387.4,333.7 L389.2,332.6 M401.3,336.6 L403.1,335.5 M413.4,336.6 L410.3,335.9 M422.4,330.7 L419.3,330.1 M431.1,324.9 L428.1,324.3 M439.7,319.3 L436.7,318.7 M448.1,313.8 L445.1,313.2 M456.4,308.4 L453.3,307.8 M464.4,303.1 L461.4,302.5 M472.3,297.9 L469.4,297.3 M475.7,288.6 L472.7,288.1 M476.2,280.5 L473.2,280 M476.7,272.3 L473.7,271.8 M477.2,264 L474.2,263.5 M477.7,255.6 L474.7,255.1 M478.3,247.2 L475.2,246.6 M478.8,238.6 L475.7,238.1 M479.4,229.9 L476.3,229.4 M479.9,221.1 L476.8,220.6" fill="none" stroke="#222" stroke-width="1.01"/>
<g class="t" font-size="6.92" text-anchor="middle">
<text x="289.2" y="328.9">−60</text><text x="302.1" y="331.7">−50</text><text x="315.2" y="334.5">−40</text><text x="328.4" y="337.3">−30</text><text x="341.7" y="340.2">−20</text><text x="355.2" y="343">−10</text><text x="368.8" y="345.9">0</text><text x="382.6" y="348.9">10</text><text x="396.5" y="351.9">20</text><text x="421.9" y="350.5">−20</text><text x="430.7" y="344.5">−10</text><text x="439.4" y="338.7">0</text><text x="447.9" y="333">10</text><text x="456.2" y="327.4">20</text><text x="464.3" y="321.9">30</text><text x="472.3" y="316.6">40</text><text x="480.1" y="311.3">50</text><text x="488.4" y="292.2">−40</text><text x="488.9" y="284.1">−30</text><text x="489.5" y="276">−20</text><text x="490.1" y="267.7">−10</text><text x="490.7" y="259.3">0</text><text x="491.3" y="250.9">10</text><text x="492" y="242.3">20</text><text x="492.6" y="233.6">30</text><text x="493.2" y="224.9">40</text>
</g>
<path d="M394.4 273.3h0M397.7 272.3h0M392.3 275.5h0M400.2 272.8h0M402.5 281.4h0M394.8 284.2h0M393.7 273.4h0M397.1 270.7h0M400.4 275.9h0M390.5 265.4h0M400.2 274.5h0M390.4 265.9h0M389.3 277.9h0M393 270.7h0M393.6 277.3h0M402.1 268.4h0M396.9 272.2h0M391.8 284h0M397 275.6h0M396.6 272.3h0M398.1 272.3h0M396.1 273.5h0M391 257.7h0M405.2 274.9h0M399.8 276h0M401.7 279.9h0M391.9 281.9h0M396.9 258.2h0M399.4 279.5h0M399.5 275.1h0M399.2 268.9h0M399.1 277h0M392.5 283.5h0M392.8 279.1h0M394.6 277.1h0M404.2 276.6h0M395.3 269.7h0M399.2 280.4h0M396.2 280.3h0M394.2 267.6h0M396.8 266.8h0M393.1 272.5h0M384.9 261.6h0M395.2 286h0M398.9 270.9h0M394.1 265.2h0M393.2 268.3h0M397.3 267.4h0M401.3 273.5h0M397.4 270.2h0M391.7 268.3h0M391.2 284.9h0M398.4 261.2h0M394.1 282.5h0M399.7 287h0M391.2 287.8h0M393.6 259.9h0M398.1 262.6h0M391.5 273.1h0M393.3 278.5h0M392.6 265.4h0M398.5 279.9h0M390.4 271.4h0M393.2 280.7h0M395.6 272.4h0M405.8 287.5h0M395.8 270.2h0M394.1 273.3h0M399.1 268.7h0M391.1 276.9h0M401.5 282h0M394.9 271.8h0M396.6 269.7h0M396.1 278h0M394 277.2h0M392.6 268.4h0M386.2 264.2h0M392 274.6h0M393.3 264.9h0M397.7 267.6h0M395.7 269.4h0M395.9 279h0M388.6 271.4h0M387.1 273.7h0M395.4 267.4h0M397 268.7h0M396.8 285.4h0M399.2 272.1h0M395.4 263.4h0M398.3 272.5h0M393.9 266.5h0M398.5 270.8h0M389.7 270.9h0M394.1 272.5h0M396.9 287.7h0M392.6 282.7h0M405.5 271.2h0M399.4 277.4h0M393.3 267.7h0M392 259.9h0M393 279.2h0M390 277.2h0M395.1 289.8h0M396.8 281.8h0M394.2 264.4h0M399.7 279h0M391 264.4h0M392.1 265.7h0M396.3 280.9h0M385.1 253.8h0M394.8 274h0M398 266.1h0M393 276.8h0M397.8 263.7h0M392.2 266h0M396.2 253.1h0M391.4 255.8h0M394.2 272.3h0M393.6 269.7h0M393.7 264.1h0M397.8 275.4h0M399 273.7h0M395.9 274.3h0M392.9 273.4h0M390.5 279.7h0M400.9 268.3h0M391.1 268.4h0M395.9 265.8h0M396.5 262.9h0M388.7 276.7h0M387.8 261.2h0M402.3 288.5h0M400 284.3h0M396.6 289.2h0M399.9 277.9h0M394.6 267.6h0M394.2 262.6h0M388.2 260.8h0M399.9 279.9h0M392 268.9h0M400.6 276.7h0M395.9 267.9h0M393.3 277.6h0M394.6 266.1h0M394.1 262.3h0M391.9 255.7h0M392.9 267.3h0M397.4 266.8h0M399 272.3h0M402.5 268.9h0M395.9 275.9h0M392.7 280.3h0M395.5 280.8h0M402.7 268.2h0M397.9 272.8h0M389.5 269.7h0M397.7 287.6h0M397 278.2h0M394.6 267h0M403.7 289.8h0M390.7 267.8h0M399.2 271.2h0M397 267.8h0M388.1 272.4h0M394.3 284.7h0M392.6 265.3h0M398.5 271.9h0M390.6 273.1h0M395 268.3h0M392.7 274.2h0M396.6 265.2h0M396.2 267.4h0M397.3 278.9h0M394.1 272.3h0M399.2 255h0M396.7 289.9h0M393.3 272.4h0M399.7 267.3h0M390.1 265.1h0M395.3 266.9h0M394.8 284.9h0M393.8 270.6h0M398.6 271h0M387.3 273.7h0M391 255.2h0M396.6 280h0M395.7 277.5h0M400.9 274.7h0M394.5 273.2h0M392.8 255.4h0M382.2 259.8h0M393.4 268.7h0M392.3 266.8h0M397.2 278.1h0M389 257h0M409.4 288.3h0M399.3 268.3h0M391.4 271.1h0M400.3 278.8h0M413.1 278.7h0M405.1 255.4h0M399.6 286.2h0M401.2 281.3h0M390.1 239.7h0M390.8 275h0M392.4 268.4h0M399.1 274h0M389.1 272.5h0M398.4 283.1h0M388.5 277.5h0M398.5 269.4h0M391 264.9h0M382.7 260h0M380.9 275.5h0M386.8 267.2h0M394.9 280.2h0M398.5 257.8h0M397.9 259.1h0M394.4 264.5h0M384 251.1h0M395.6 284.5h0M383.8 252h0M398.8 270.5h0M385.3 280.6h0M391.9 276.1h0M401.5 274.3h0M399.6 258.7h0M393.3 277.9h0M406.5 281.3h0M389.6 259.5h0M391.8 259.5h0M379.2 260.6h0M389.8 240.2h0M392.5 306.1h0M387.2 266.5h0M363.1 239.5h0M369.6 253.6h0M368.5 259.7h0M374.4 266.3h0M376.6 271.1h0M379.5 253.6h0M382.3 252.5h0M388.2 237.3h0M400.8 238.4h0M405.6 242.7h0M389.9 251.5h0M402.4 257.6h0M406.3 258.4h0M406.3 268.5h0M404.5 277.6h0M386 290.7h0M388.8 301.6h0M395.8 301.6h0" stroke="#088e1e" stroke-width="2.87" stroke-linecap="round" fill="none"/>
<path d="M391 220.9h0M381.6 242.1h0M397.6 244.9h0M394.7 251h0M382.7 262.4h0M389.3 261.3h0M391 259.7h0M394.7 259.1h0M396.9 260.6h0M399.7 261.3h0M384.9 269.3h0M386 273.3h0M368.1 273.9h0M392.5 287.5h0" stroke="#1010fa" stroke-width="2.87" stroke-linecap="round" fill="none"/>
<path d="M402.5 297.2h0M400.6 299.5h0M403.1 287.6h0M402.2 292.4h0M400.6 291h0M401 294.8h0M400.1 296.5h0M401.8 301.9h0M400.4 299.1h0M401 295.1h0M401.4 292.5h0M400 295h0M400.8 292.2h0M399.9 291.5h0M397.3 300h0M399.2 290.8h0M403.9 293.8h0M402.5 295.3h0M402.2 292.1h0M403.2 295.2h0M401 292.3h0M403.8 292.9h0M402 298.2h0M401.2 286.1h0M400.9 296.1h0M402.3 292.5h0M404.3 301h0M399.2 290.1h0M400.5 291.5h0M398.5 294.9h0M399.1 297.3h0M401.3 299.5h0M403.5 297.3h0M405.6 294h0M408.5 301.6h0M407.2 304.9h0M401.3 306h0M398 306h0M404.5 313.6h0M402.4 318.7h0M399.1 322.4h0" stroke="#1a1a1a" stroke-width="2.87" stroke-linecap="round" fill="none"/>
<path d="M403.9 288.4h0M399.7 276.8h0M398.2 277.5h0M401.3 281.1h0M398.6 286.1h0M399.8 283.4h0M398.3 285.1h0M400.2 293.8h0M396.1 273h0M401.7 286.5h0M396.8 288.8h0M400.4 281.8h0M403.6 294.6h0M398.9 274.4h0M400.9 279.7h0M402.8 283.6h0M401.3 291.6h0M399.4 283.9h0M401.7 284.5h0M397.8 285h0M398.6 276.7h0M400.7 284.2h0M399.5 287.5h0M396.5 279.7h0M399.7 282.7h0M400.8 284.1h0M403.2 282.4h0M399.1 284.4h0M404.3 284.6h0M400.3 289.4h0M399 289.2h0M398.9 278.7h0M399.5 284.6h0M401.8 281.7h0M398.7 280.7h0M401.4 279.3h0M401.2 281.5h0M398 280.8h0M399.8 281.1h0M403 287h0M401.5 283.8h0M402.5 292.5h0M402.1 284.2h0M401.1 282.4h0M398.2 286.3h0M402 285.7h0M402 285.3h0M402.1 278.8h0M399.8 282.4h0M399.8 285.4h0M400.2 293.8h0M401.2 281.7h0M402.8 288.7h0M400 286h0M398.6 280.8h0M400.3 278.1h0M398.1 293.7h0M400.8 281.3h0M402.6 284.9h0M402.2 289.7h0M401.5 288.5h0M400.7 287.7h0M400.7 287.9h0M399 284.3h0M400.6 282.2h0M399.5 284.4h0M401.7 276.6h0M398.8 285.9h0M399.2 289.7h0M400.7 281.1h0M398.5 273.2h0M400.9 286.2h0M398.9 284.1h0M398.7 290.4h0M402.8 285.8h0M396 277.8h0M404.4 285.2h0M398.2 281h0M399.1 274.7h0M400 281.5h0M398.3 275.6h0M401.6 287.4h0M398.6 284.9h0M400.6 282.2h0M401.7 282.9h0M400.9 284.1h0M400 284.2h0M399.3 277.7h0M396.6 280.5h0M398.9 279.1h0M400.2 287.1h0M400.4 283.9h0M400.1 286.1h0M399.5 274.7h0M399.5 276h0M403.5 285h0M401.1 284.6h0M402.6 280.7h0M398.3 277.8h0M400.3 280h0M401.5 280.8h0M404.9 291.6h0M401.8 290.4h0M398.1 277.1h0M401.7 294.1h0M398.5 280.9h0M402 287.7h0M403.7 289.2h0M403.1 284.2h0M398.6 279.5h0M401.9 286.6h0M401.7 293.4h0M398.6 286.1h0M400.9 282.7h0M401.9 282.1h0M398.7 290.2h0M402 292.7h0M399.4 279.8h0M397.8 285.4h0M400 275.1h0M405.3 293.3h0M398.3 269.7h0M400.8 281.6h0M404.1 290.7h0M401.1 288.2h0M400.1 281.4h0M401.6 280.3h0M397.9 274h0M399.1 278.3h0M401.7 286.4h0M402 280.7h0M398.4 283.2h0M400.5 274.7h0M403.2 292.6h0M401.1 288.7h0M403.7 287.1h0M401.8 283.4h0M402.4 279.1h0M402.1 282.2h0M400.1 280.9h0M402.2 287.3h0M401.5 283.1h0M400.5 283.3h0M399.6 282.1h0M401.9 288.3h0M398.7 273.4h0M400.9 281.8h0M402.9 294.5h0M401 285.4h0M398 280.7h0M401.4 288.2h0M399.3 286.5h0M399.5 274.8h0M401.9 293.2h0M398.8 280.6h0M400.2 284.2h0M400.3 291.3h0M398.1 281.5h0M401 296.3h0M399.9 283.2h0M401.4 287h0M396.3 269.6h0M400.5 283.8h0M396.2 284.5h0M398.8 278h0M401.4 292h0M399 272.9h0M398.7 278.7h0M403.3 287h0M402.2 295.9h0M397.3 286.8h0M397.6 273.8h0M400.1 282.4h0M402.1 293.4h0M400.9 280.7h0M401.2 290.7h0M400.7 282.4h0M399.8 292.7h0M403.8 288.4h0M399.2 284.6h0M397.3 282.6h0M401.6 281.5h0M401.2 291.7h0M399.2 290.9h0M400.4 283h0M401.6 280.4h0M399.6 284.6h0M401.1 286.6h0M400.6 279.9h0M398.5 274.8h0M402.5 282.3h0M401.8 284.5h0M399.2 280.7h0M401.5 284h0M398.2 282.4h0M403.3 290.4h0M399.4 277.5h0M398.3 279.3h0M399.4 282.8h0M400.4 280h0M401.1 295.7h0M401.4 287.2h0M396.2 277.8h0M405.4 286.1h0M398.9 283.7h0M402.2 293h0M400.7 287.9h0M400.3 282.1h0M399.2 282.5h0M401 283.4h0M399.5 281.2h0M398.3 281.2h0M399.3 286.3h0M402.8 284.9h0M398.7 278.7h0M399.1 282.2h0M402.8 293.6h0M400.6 277.8h0M400.9 283.8h0M398.5 265.7h0M401.5 294.1h0M396.9 283.8h0M397 288.8h0M400.8 283.5h0M397 278.4h0M400.3 287.4h0M403.7 290.4h0M400.5 292.8h0M401.9 287.3h0M402.3 284.5h0M398.9 275.9h0M401.4 280.2h0M401 291.6h0M396.9 272.6h0M401.8 281h0M402.7 274.5h0M399.7 269.5h0M403.9 283.1h0M396.6 277.8h0M402 286h0M398.6 279.9h0M400.4 287.6h0M401.2 292.3h0M399.9 287.1h0M401.2 284.7h0M398.8 278h0M398.6 280.3h0M402.3 287.7h0M399.6 282.9h0M400.5 285.5h0M400.4 284.6h0M401.7 286.3h0M399.6 280.4h0M397.7 283.1h0M398.2 279.3h0M404.1 287.4h0M401.5 289.6h0M398.4 282.8h0M403.3 281.2h0M400.6 290.6h0M402.7 284.3h0M404.5 289.9h0M400.4 284.3h0M400.7 283.8h0M400.3 280.3h0M400.3 286.2h0M394 262.3h0M399.8 288.9h0M396.7 276.4h0M399 281.8h0M403 280.3h0M403.3 290.8h0M402.4 283h0M397 269.5h0M398.2 290.4h0M397.4 278.3h0M398.8 285.3h0M400.2 284h0M394.6 270h0M397.4 290.2h0M400.9 285.8h0M402.7 292.8h0M405.4 294.2h0M401.5 273.9h0M400.5 275.4h0M399.2 283.4h0M398.5 292h0M399.9 275.3h0M400.7 272.6h0M395.4 269.1h0M403.1 287h0M398.8 274.7h0M400.7 291.7h0M395.8 270.9h0M399.8 292.5h0M402.9 296.3h0M404.2 289.5h0M400.9 293.7h0M405.8 288.9h0M403.7 294.5h0M372.9 286.4h0M392.5 315.8h0M393.6 302.7h0M408.5 304.9h0" stroke="#fa1010" stroke-width="2.87" stroke-linecap="round" fill="none"/>
<rect x="258" y="192.6" width="65.4" height="45.4" rx="1.2" fill="#fff" fill-opacity="0.9" stroke="#ccc" stroke-width="0.6"/>
<g class="l" font-size="8.55">
<circle cx="268.4" cy="200" r="1.22" fill="#0c9a34" stroke="none"/><text x="271.6" y="203.1">Pass</text>
<circle cx="268.4" cy="210.6" r="1.22" fill="#262626" stroke="none"/><text x="271.6" y="213.7">Withdraw</text>
<circle cx="268.4" cy="221.4" r="1.22" fill="#fa2424" stroke="none"/><text x="271.6" y="224.5">Fail</text>
<circle cx="268.4" cy="232" r="1.22" fill="#2424fa" stroke="none"/><text x="271.6" y="235.1">Distinction</text>
</g>
<text class="t" x="258.6" y="185.4" font-size="8.7">EEE_2013J</text>
</g>
<g id="plot5">
<polygon points="41.1,502.2 114.2,461.7 113,384.3 35.8,420.7" fill="#f8f8f8" stroke="#f8f8f8" stroke-width="0.5"/>
<polygon points="114.2,461.7 232.7,484.3 237.6,404.6 113,384.3" fill="#f0f0f0" stroke="#f0f0f0" stroke-width="0.5"/>
<polygon points="41.1,502.2 165.7,528.5 232.7,484.3 114.2,461.7" fill="#f4f4f4" stroke="#f4f4f4" stroke-width="0.5"/>
<path d="M56.7,505.5 L129.1,464.5 L128.6,386.8 M74.7,509.3 L146.2,467.8 L146.6,389.8 M92.9,513.1 L163.6,471.1 L164.9,392.7 M111.4,517.1 L181.2,474.5 L183.4,395.8 M130.2,521 L199,477.9 L202.1,398.8 M149.2,525 L217,481.3 L221.1,401.9 M175.4,522.1 L51.6,496.3 L47,415.4 M191,511.8 L68.6,486.9 L64.9,406.9 M206,501.9 L85,477.8 L82.2,398.8 M220.5,492.3 L100.9,469 L99,390.9 M40.5,493 L114.1,453 L233.2,475.4 M39.9,483.7 L113.9,444.1 L233.8,466.3 M39.2,474.4 L113.8,435.2 L234.4,457.1 M38.6,464.8 L113.6,426.2 L234.9,447.8 M38,455.2 L113.5,417 L235.5,438.3 M37.4,445.5 L113.3,407.8 L236.1,428.8 M36.7,435.6 L113.2,398.4 L236.7,419.2 M36.1,425.6 L113,388.9 L237.3,409.4" fill="none" stroke="#b2b2b2" stroke-width="0.83"/>
<path d="M41.1,502.2 L165.7,528.5 L232.7,484.3 L237.6,404.6" fill="none" stroke="#111" stroke-width="0.75" stroke-linejoin="round"/>
<path d="M56,505.8 L58,504.7 M74,509.7 L76,508.5 M92.3,513.5 L94.2,512.4 M110.8,517.4 L112.7,516.3 M129.5,521.4 L131.4,520.2 M148.6,525.4 L150.4,524.3 M176.5,522.3 L173.3,521.7 M192.1,512.1 L188.9,511.4 M207.1,502.1 L203.9,501.5 M221.6,492.5 L218.4,491.9 M234.3,475.5 L231.1,475 M234.8,466.5 L231.7,465.9 M235.4,457.3 L232.3,456.7 M236,448 L232.8,447.4 M236.6,438.5 L233.4,438 M237.2,429 L234,428.4 M237.8,419.3 L234.6,418.8 M238.4,409.6 L235.2,409" fill="none" stroke="#222" stroke-width="1.05"/>
<g class="t" font-size="7.22" text-anchor="middle">
<text x="51" y="521.4">−20</text><text x="69" y="525.3">−10</text><text x="87.2" y="529.2">0</text><text x="105.7" y="533.2">10</text><text x="124.5" y="537.3">20</text><text x="143.5" y="541.4">30</text><text x="185.2" y="536.8">−60</text><text x="200.6" y="526.4">−40</text><text x="215.4" y="516.4">−20</text><text x="229.8" y="506.7">0</text><text x="247.5" y="479.3">−30</text><text x="248.2" y="470.2">−20</text><text x="248.8" y="461.1">−10</text><text x="249.5" y="451.8">0</text><text x="250.2" y="442.4">10</text><text x="250.8" y="432.8">20</text><text x="251.5" y="423.2">30</text><text x="252.2" y="413.5">40</text>
</g>
<path d="M139.5 441.9h0M142.4 442.5h0M140.1 440.5h0M142.5 442.5h0M149.7 452.1h0M140.1 442.8h0M141 446.6h0M154.4 449h0M133.2 448.5h0M140.3 446h0M148 444.5h0M140.6 442.5h0M141.5 450.6h0M134.2 443.6h0M133.3 443.7h0M150.5 454.6h0M151.6 435.5h0M145.5 448.8h0M140 448.2h0M135.5 445.9h0M143.4 453.8h0M145.5 451.3h0M133.9 450h0M145.8 442.4h0M140.8 440.6h0M151.2 445.8h0M145.9 439.3h0M148.1 453.1h0M143 451.8h0M140.1 440h0M139.4 449h0M150.9 447.2h0M147.6 455h0M143.9 446.7h0M142.4 439.4h0M142.3 440.1h0M148.6 440.8h0M151.3 453.2h0M151.9 447h0M134.6 447.5h0M144.9 445.7h0M134 442.5h0M142.7 444h0M146.2 442.1h0M141.6 439.2h0M143.7 455.1h0M146.3 448.8h0M150.7 447.3h0M141.3 440.9h0M147.4 442.8h0M137.5 442.6h0M140.1 444.9h0M148.2 440.7h0M147.9 451.7h0M141.2 444.3h0M147.1 439h0M139.2 439.5h0M140.3 449.8h0M149.6 445.5h0M139.9 451.6h0M139.9 442.6h0M141.3 438h0M145.9 445.6h0M144.4 441.8h0M147.4 447.8h0M146.9 451.6h0M150.2 451.9h0M140 445.9h0M143 450.9h0M141 442.1h0M146.6 447.5h0M138.9 451h0M144.1 439.7h0M144.5 442.2h0M141.5 440.4h0M126.9 452.5h0M139.2 445.3h0M153 449.6h0M146.4 455h0M137.1 447.8h0M139.3 449.4h0M137.7 443.6h0M134.3 448.6h0M149.2 449.1h0M143.2 442.2h0M144 444.6h0M144 452.9h0M141.7 445.5h0M139.8 443.1h0M144.7 440.7h0M138.2 449.5h0M146 441h0M132.6 445.6h0M139.6 448h0M148.7 448.5h0M140.5 452.1h0M146.1 448h0M143.1 453.7h0M144.8 448.5h0M143.6 441.4h0M145.1 445.7h0M147.5 446.7h0M145.7 440.3h0M144 438.5h0M149.9 449.5h0M143.2 443.2h0M139.6 444.3h0M149.2 441.4h0M138.1 445.9h0M149.9 444h0M148.5 441h0M144.1 438.7h0M136.7 442.5h0M141.4 448.7h0M141.6 450.5h0M148.2 436.6h0M137.3 444.4h0M134.7 449.2h0M151.1 444.4h0M144.3 447.8h0M130.6 445.6h0M148.2 444.5h0M139.3 440.7h0M149.8 450.4h0M139.4 447h0M143 446.7h0M143.1 430.4h0M142.9 448.9h0M135.9 444h0M148.4 441.5h0M142.7 452.7h0M147.5 450.5h0M143.9 448.4h0M146.5 448.2h0M151.7 440.2h0M132 445.8h0M143.2 440.5h0M141 456.1h0M142.5 450.9h0M137.7 436.6h0M144.8 445.9h0M147.3 448.6h0M139.2 442.2h0M136.8 440.2h0M143.3 437.5h0M145.8 450.4h0M135.7 446.2h0M148.4 444.6h0M135.7 445h0M147.5 441.1h0M135.2 443.9h0M132.2 444.8h0M145 448.9h0M143.1 446.2h0M144.8 444.2h0M152.8 441.3h0M137 446.5h0M147.1 452.2h0M148.7 442.5h0M136.5 443.9h0M144.2 446.1h0M136 449.3h0M145.8 448h0M150.9 441.6h0M141.9 449.4h0M137.6 453h0M142 443.2h0M142.4 450.4h0M142.5 440.1h0M145.8 439.3h0M141 434.1h0M131.2 451.9h0M140.2 446.6h0M147.5 436.2h0M149.7 452.5h0M148.6 439.6h0M138.7 441.1h0M137.8 443.2h0M151.7 448.9h0M147.5 449.4h0M151.3 440.9h0M140.8 450.5h0M145 440h0M148.3 446.3h0M146.7 441.5h0M156.4 445.2h0M134.5 442.8h0M141.8 440.6h0M148 448.1h0M133 442.1h0M142.6 435.6h0M133.4 447.2h0M147.2 439h0M144 445.7h0M147.1 447h0M151.4 437.5h0M151.9 448.4h0M135.7 448.5h0M141.1 457.5h0M140.4 446.4h0M143.5 452.4h0M140.2 435.8h0M141.4 436.2h0M132.8 448.5h0M139.7 441.4h0M154.6 437.1h0M131.4 448.9h0M147.1 445.3h0M146.4 454.4h0M155.2 446.6h0M143.6 446.9h0M140.5 439h0M144.9 449.5h0M137.4 436.6h0M139.4 449.5h0M149.6 446h0M149 442.2h0M139.2 445.9h0M146 443.3h0M143 440.7h0M139.1 450.5h0M151.7 447.5h0M147.2 450.2h0M138.8 448.2h0M135.2 452.1h0M138.2 451.7h0M150.1 447.7h0M138.2 441.9h0M140.1 446.1h0M155.1 444.9h0M139.9 434.7h0M146.4 444.9h0M153.7 441.7h0M146.1 449.1h0M142.2 443.8h0M149 437.2h0M140.7 448.9h0M136.4 443.5h0M147.9 440.8h0M144.2 440.2h0M146.1 449.1h0M136.4 446.2h0M139.4 445.2h0M145.2 446.5h0M147.8 448.7h0M152.5 447.2h0M143.5 444.5h0M139.5 451.1h0M147.7 442.4h0M143.5 441.8h0M147 454.4h0M143.1 448.4h0M154.2 444.4h0M144.7 448.1h0M145.2 445.3h0M145.4 440h0M152.6 456.7h0M142.2 444.2h0M144.8 445.3h0M146.3 444.8h0M138.7 450.4h0M151.6 446.5h0M143.1 447.1h0M144.6 444.9h0M140.2 440h0M146.5 444.9h0M139.1 435.6h0M135.9 450.4h0M140.5 444.5h0M135 447.9h0M138.1 447.4h0M140.3 442.9h0M139.7 444.6h0M141.9 439.9h0M140.8 443.3h0M142.1 448.7h0M138.8 445.9h0M151.7 452.5h0M146.1 444.6h0M135.6 441.3h0M141.3 445.8h0M151.7 447.1h0M148 445.5h0M146.4 442.8h0M149.5 447.2h0M144.7 447.6h0M145.8 436h0M147.8 449.1h0M143.7 444.8h0M145.5 443.7h0M140 450.3h0M155.9 439.2h0M142.4 446.3h0M143.2 446.2h0M151.8 450.9h0M133.6 460.8h0M153.4 454.6h0M140.9 445.5h0M138.6 440.4h0M147 451.5h0M141.3 441.8h0M142.3 442.4h0M138.6 447.6h0M143.2 448.5h0M147.9 444.4h0M149.9 446.2h0M149.9 451.6h0M139.3 443.7h0M138.5 448.5h0M143.6 442h0M145.6 448.4h0M141.7 445.5h0M137.8 444h0M139.9 443.1h0M131.2 444h0M130.5 448.6h0M137.7 442.3h0M138 446.7h0M137.6 451.4h0M143.6 442.3h0M150.9 444.4h0M143.8 455.6h0M142.6 437.9h0M143.1 440.7h0M148 443.3h0M139.4 442.1h0M146 443.6h0M142 440.9h0M145.9 447.3h0M139.8 446.7h0M143.7 443.1h0M149.3 445.9h0M142 443.6h0M142.8 443.8h0M145.8 437.9h0M133.6 448.1h0M156.7 446.9h0M152.8 446.7h0M146.1 433.9h0M142.2 448.6h0M136.7 451.3h0M141.5 445.6h0M140.5 436.6h0M149.6 440.1h0M146.3 444.1h0M147.8 437.5h0M149.4 444.4h0M139.3 449.2h0M146.4 445.1h0M147.1 445.5h0M141.5 445.6h0M144.2 444.3h0M136.4 443.8h0M141.9 443.9h0M147.5 440h0M139.9 446.5h0M147.9 444.7h0M136.8 444.6h0M146.3 442.5h0M143.9 437.3h0M154.4 443.2h0M139.2 446h0M153.7 446h0M147.6 446.8h0M142.2 453.3h0M148.6 443.4h0M138.3 447.3h0M142.2 448.4h0M152.4 448.9h0M141 452.7h0M147.8 438.6h0M152 446.6h0M146.3 443.7h0M145.9 440.5h0M140.6 444.8h0M134.5 442.6h0M145.8 440.7h0M146.3 444.5h0M138.8 449h0M137.3 439.5h0M135.2 440.3h0M151.4 450h0M135.3 444.7h0M139.3 446.3h0M139.4 441.8h0M134.6 453.7h0M150.8 444h0M142 447.3h0M132.7 449.1h0M144.7 444.9h0M144.8 449.1h0M151.2 442.7h0M132.5 444.3h0M146 442.7h0M143.5 440.8h0M149.6 443.5h0M139.8 444.9h0M146.1 450.2h0M142 441h0M143.4 442.3h0M141.8 439.5h0M137.5 447.8h0M138.6 440.3h0M136.8 449.5h0M140.1 440.6h0M137.9 437.7h0M142.1 444h0M145.9 446.7h0M145.5 439.4h0M143.9 447.6h0M137.3 444.2h0M153.5 437.8h0M144 438.9h0M150 439.5h0M138.5 451h0M135 450.6h0M140.6 447.9h0M141.3 447.2h0M139.2 442.3h0M139.4 442.3h0M146 443h0M138.4 446h0M149.7 449.7h0M144.5 446.3h0M142.2 442.9h0M150.3 442.2h0M138.9 445.1h0M138.3 442h0M146.8 437.9h0M143.1 439.1h0M152.8 444.9h0M149.1 447.2h0M145.3 440h0M142.7 444.2h0M143.3 446.5h0M151.4 454.6h0M139 443.8h0M146.8 447.9h0M143.3 445.5h0M156.3 444.2h0M146.6 441.3h0M137.1 437.1h0M144.9 441.2h0M139.2 444.1h0M141.1 444.9h0M144.1 445.9h0M138.5 443.9h0M130 453.1h0M150.4 444.9h0M141.1 443.2h0M135.6 439.8h0M139.1 446.6h0M145.2 440.4h0M148.2 448.2h0M151 446.2h0M145.5 444.1h0M152.8 448.8h0M148.2 442.9h0M153.9 449.7h0M145.6 444.2h0M143.5 443.4h0M142.7 444.9h0M132.6 448.5h0M151.4 447.2h0M143.9 444.4h0M146.5 450.2h0M148.1 454.7h0M153.4 443.5h0M142.2 449.4h0M143.6 447.8h0M141 453.5h0M143 443h0M152.2 445h0M142.9 440.2h0M145.2 440.1h0M142.2 440.5h0M145.6 444.4h0M140.9 452.1h0M154.9 443.5h0M139.3 443.1h0M140.8 446.8h0M138.2 446.8h0M139.9 446.6h0M143.5 443.6h0M142.8 441.6h0M146.6 442.1h0M134.7 448.4h0M145 445.4h0M140.8 447.9h0M139.5 450h0M141.7 447.2h0M145.2 437.3h0M152.7 439.2h0M133.6 439.2h0M146.9 453.3h0M137.3 442.3h0M144.9 452.9h0M147.8 453.2h0M152.2 454.1h0M147.2 446h0M138.6 438.5h0M142.3 446.3h0M149 443.2h0M142.8 441h0M140.2 435.3h0M141.6 448.3h0M140.5 444.4h0M150.3 442.4h0M144.6 439.1h0M138.9 444.2h0M142.4 444.8h0M151.8 448.3h0M138 449.5h0M144.6 447.2h0M136.9 442.9h0M142.3 448.7h0M150.2 449h0M147.4 449.7h0M140.3 460.1h0M140.5 446.1h0M145.6 450.9h0M143.6 445.6h0M145.1 440.6h0M148 442.2h0M144.4 448.5h0M146.8 443.7h0M142.5 447.3h0M148.5 455.2h0M147.6 454.5h0M143.7 450.1h0M149.5 446.3h0M142.8 443.9h0M148 441.9h0M145 453.6h0M138.2 445.1h0M135.9 442.3h0M149.6 446.8h0M134.7 445.2h0M132.6 451.4h0M144.9 443.1h0M144.9 448.2h0M150.3 444.9h0M137.8 451.8h0M143.8 448.6h0M150.1 437.8h0M148.7 448.2h0M148.8 439.2h0M143.9 449h0M146.1 442.9h0M152.9 449.8h0M148.7 444.3h0M144.9 443.4h0M140 446.3h0M138.3 447.9h0M147.7 435.6h0M146.5 443.7h0M141.3 446.4h0M140 444.1h0M139.3 444.1h0M154.3 442h0M145.2 459.8h0M129.3 441.5h0M147 447.2h0M139.2 441.2h0M138.2 443.7h0M134.7 446.6h0M138.1 450.9h0M147.2 443.8h0M146.9 452.1h0M147 460h0M148.1 447.5h0M146.7 448.8h0M141.2 447h0M137.7 451.2h0M131.9 444.9h0M149.1 453h0M140.8 455.8h0M147.1 447.8h0M132.9 440.3h0M144.3 443.7h0M145.4 445.2h0M140.3 448.5h0M133.1 450.9h0M162.6 447.2h0M150.8 450.5h0M126.9 441.2h0M144 445.9h0M155.1 445h0M147.2 442.4h0M143.6 445.2h0M142 450.2h0M132.2 440.3h0M144.9 446.2h0M150.6 444.7h0M130.1 454.1h0M143.2 455h0M150.3 441.7h0M126.2 453.4h0M132.8 449.9h0M143.1 441h0M126.4 447.5h0M144.6 441.1h0M148.3 443.3h0M138.5 442.1h0M134.7 450.6h0M140.5 445.2h0M154.4 439.8h0M136.7 449h0M147.2 452.5h0M146.1 439.5h0M147 436.7h0M156.3 441.8h0M151.2 447h0M135.8 454.9h0M146.1 445.1h0M126.7 433.1h0M144.6 439.3h0M159.7 448h0M140.9 458.1h0M127.2 449.1h0M134.7 430.6h0M117.6 458.6h0M143.2 465.7h0M146.9 453h0M137 459.8h0M135.7 450.6h0M151.3 454.7h0M138.7 454.2h0M156.1 460.4h0M143.2 456.4h0M142.5 442.8h0M142.1 435.9h0M131.6 454.9h0M168.3 444.2h0M122.2 462.5h0M141.7 435.3h0M133.1 440.3h0M141.2 450.3h0M148.4 438.9h0M151.9 451h0M126.5 431.1h0M135.1 453h0M152.7 442h0M138.1 447.2h0M150 452.9h0M143.9 452.7h0M106 444.2h0M154.2 463.3h0M147.8 442.2h0M122.7 462.8h0M118.6 428.1h0M169.8 440.5h0M164.4 438.9h0M148.6 445.9h0M122.4 452.7h0M135.1 453.9h0M131.5 449h0M136.9 443.7h0M146.9 428.9h0M146 441.8h0M146.5 451.3h0M106.4 452.2h0M148.3 452.7h0M125.3 463.3h0M143.8 465.8h0M151.5 467.9h0M155 451.1h0M136.8 442.8h0M147.4 444.2h0M116.9 471.5h0M141.1 449.4h0M126.3 439.3h0M121 432.5h0M156.2 458.4h0M138.9 433.7h0M140.3 444h0M142.9 457h0M118.4 428.5h0M153.7 439.6h0M129.1 435h0M150.5 455.6h0M117.8 460.5h0M125.1 455.5h0M148.8 429.4h0M156 459.5h0M161.6 449h0M148.2 442.9h0M143.3 454.4h0M143.5 446.8h0M136.4 438.1h0M120.9 459.4h0M153 448.4h0M145.7 448.1h0M150.4 438h0M140.9 455.3h0M167.6 458.5h0M136.8 443.3h0M154.9 444.2h0M137.6 453.6h0M116.6 458.1h0M152.3 429.6h0M142 457.6h0M126 431h0M113.7 457h0M152.6 455.5h0M141.3 454.4h0M154.4 434.9h0M121.1 449.9h0M173.4 448.6h0M156.3 428.2h0M127.1 455.5h0M146.3 453.5h0M136.3 445.3h0M157.2 441.8h0M150.5 443.7h0M123.1 441h0M139.6 463.4h0M141 458.7h0M129.4 452.4h0M126 441.1h0M147.6 467.3h0M138.7 475.1h0M150.2 451.5h0M150.3 451.7h0M142.3 450.5h0M127.1 437.8h0M151.1 441.9h0M144.6 429.9h0M153.2 448.8h0M127.1 437.5h0M127.1 423.1h0M160.5 458.4h0M161.1 447.5h0M113.4 452.7h0M153.5 446.2h0M160.4 456.6h0M144.1 443.7h0M129.4 446.8h0M133.4 437.2h0M141.6 427.9h0M141.2 426.9h0M150.7 442.5h0M110.5 436.8h0M154 451.2h0M129.9 459.4h0M133.8 437.9h0M162.2 433.9h0M119.6 455.8h0M142.7 456.5h0M144.4 460h0M135.4 448h0M122.9 435h0M150.3 449.4h0M166.9 441.2h0M142.4 449.1h0M142.7 434.5h0M130.9 455.3h0M140.1 438.1h0M146.2 452.7h0M156.2 441.7h0M124.5 461.7h0M155.5 441.8h0M141 444.4h0M154.2 446.4h0M156.7 461.1h0M148.8 440.6h0M149.9 453.8h0M146.1 451.8h0M111.8 453.4h0M175.5 446.2h0M137.4 448.3h0M143 457.3h0M137.7 451.5h0M156.6 451.8h0M163.5 445.1h0M141.4 452.6h0M132.4 445.8h0M146.6 445.9h0M146.7 436.4h0M160.8 449.8h0M135.6 465.3h0M150.1 436.4h0M155.5 441.7h0M128.7 448.5h0M125.3 446.7h0M141.5 442.8h0M151.7 443.3h0M128.6 446.1h0M152.8 443.8h0M137.3 427.6h0M137.8 452.8h0M144 445.4h0M147.2 433.8h0M149.7 438.8h0M125.6 429.1h0M127.2 461.6h0M136.5 443.2h0M127.1 448.7h0M148.8 449.5h0M138.3 440.1h0M140.9 449.7h0M140.8 451.1h0M108.5 460h0M142.8 457.3h0M167.9 452.4h0M126.7 440.2h0M163.9 444h0M127.8 448.9h0M142.1 445.8h0M124.3 456.7h0M142.3 452.3h0M142.1 461.9h0M109.9 443.2h0M137.1 460.9h0M161.9 431.9h0M124.5 443.7h0M126 448.2h0M141.6 447.6h0M135.9 454.4h0M139.2 447.6h0M145.4 443.2h0M158.7 430.7h0M157.2 434.5h0M136.1 438.2h0M157.9 433.8h0M140.8 450.2h0M131.7 446.1h0M136.7 463.5h0M120.9 429.7h0M138.7 438.7h0M116.9 454.2h0M120.8 454.3h0M130.9 451.3h0M132.8 450.4h0M117 449.6h0M116.6 442.6h0M119.8 451.1h0M119.6 445.7h0M118.9 448.9h0M118.9 445.9h0M118.6 440.3h0M110.6 444.7h0M118.6 444.8h0M135.1 452h0M107.2 443.7h0M117.5 438.5h0M122.1 444.7h0M132 446.3h0M104.7 447.1h0M121.4 453.7h0M116.8 442.7h0M129.1 445.8h0M115.1 446.8h0M125.7 441.6h0M122.8 440.6h0M120.6 445.8h0M116 448.9h0M112.9 437.4h0M122.5 454.2h0M129.6 439.5h0M119 453.8h0M138.6 441.9h0M112.4 439.6h0M129.5 450.2h0M110.6 449.2h0M126.5 444.3h0M129.5 446.2h0M106.9 440.1h0M91.5 456.5h0M128.4 453.9h0M96 451h0M130.9 461.7h0M131.5 453.1h0M112.4 455.3h0M140.6 450.1h0M108.4 437.5h0M117.8 444.5h0M120.9 458.2h0M110.4 451h0M113.2 474.4h0M126 435.7h0M118.7 451.2h0M118.5 456.6h0M104.4 452.2h0M130.1 442.2h0M116.2 451.2h0M121.3 457h0M135.8 444.7h0M110.8 445.4h0M120.1 444.8h0M119 435.8h0M111.7 449.3h0M138.1 450.3h0M126 447.8h0M140.1 456.9h0M128.1 463.2h0M110.2 465.3h0M141.8 450.8h0M141.5 464.7h0M118.3 439.5h0M136.8 465.5h0M128.1 428.3h0M96.7 467.1h0M114 466.1h0M128.2 437.9h0M132.7 450.5h0M134.1 462.6h0M125.3 463.7h0M192.5 444.4h0M111 495.9h0M161.8 484.2h0M149.2 477.3h0M165.4 469.7h0M163.2 470.9h0M96.3 434h0M101.8 445.2h0" stroke="#088e1e" stroke-width="3.00" stroke-linecap="round" fill="none"/>
<path d="M120 453.6h0M121.9 452.2h0M124.7 454.1h0" stroke="#1a1a1a" stroke-width="3.00" stroke-linecap="round" fill="none"/>
<path d="M152.7 421h0M151.8 428.9h0M154.1 434.9h0M163.7 441.9h0M157.7 446.9h0M158.7 456.8h0M163.7 456.2h0M154.7 460.8h0M149.8 462.8h0M136.8 463.8h0M139.8 457.8h0M121.9 461.4h0M129.8 454.8h0M127.8 452.8h0M157.7 470.8h0M129.8 479.7h0M98 477.7h0M92 457.2h0M102.9 457.2h0M152 420.7h0M159 425.7h0M98.2 477.8h0M129.7 480.1h0M157.6 470.9h0" stroke="#fa1010" stroke-width="3.00" stroke-linecap="round" fill="none"/>
<path d="M139.8 429.9h0M140.8 431.9h0M130.8 435.9h0M132.8 437.9h0M147.8 433.9h0M158.7 429.9h0M157.7 449.8h0M155.7 451.8h0M146.8 457.8h0M149.8 459.8h0M125.9 469.8h0M126.9 459.8h0M147.8 422.9h0M142.8 421.6h0M137.4 422.4h0M132.8 423.5h0M129.8 418.4h0M137.8 416h0M134.2 410.4h0M106.9 428.3h0M99 436.9h0M115.9 435.9h0M120.9 440.3h0M96 446.9h0M102 445.9h0M131.1 408.1h0M133.9 409.5h0M74.5 452.2h0M87 456.3h0M126.9 469.7h0" stroke="#1010fa" stroke-width="3.00" stroke-linecap="round" fill="none"/>
<rect x="7" y="376.4" width="68.6" height="47.6" rx="1.2" fill="#fff" fill-opacity="0.9" stroke="#ccc" stroke-width="0.6"/>
<g class="l" font-size="9.0">
<circle cx="17.6" cy="384.4" r="1.28" fill="#0c9a34" stroke="none"/><text x="20.6" y="387.6">Pass</text>
<circle cx="17.6" cy="395.2" r="1.28" fill="#262626" stroke="none"/><text x="20.6" y="398.4">Withdraw</text>
<circle cx="17.6" cy="406.4" r="1.28" fill="#fa2424" stroke="none"/><text x="20.6" y="409.6">Fail</text>
<circle cx="17.6" cy="417.4" r="1.28" fill="#2424fa" stroke="none"/><text x="20.6" y="420.6">Distinction</text>
</g>
<text class="t" x="7.6" y="368.4" font-size="9.0">FFF_2014B</text>
</g>
<g id="plot6">
<polygon points="305.7,509.6 367,475.8 366,411.3 301.3,441.6" fill="#f8f8f8" stroke="#f8f8f8" stroke-width="0.5"/>
<polygon points="367,475.8 466.3,494.7 470.5,428.2 366,411.3" fill="#f0f0f0" stroke="#f0f0f0" stroke-width="0.5"/>
<polygon points="305.7,509.6 410.2,531.7 466.3,494.7 367,475.8" fill="#f4f4f4" stroke="#f4f4f4" stroke-width="0.5"/>
<path d="M315.2,511.6 L376,477.6 L375.5,412.8 M332,515.2 L392.1,480.6 L392.4,415.5 M349.2,518.8 L408.4,483.7 L409.5,418.3 M366.6,522.5 L424.9,486.9 L426.9,421.1 M384.2,526.2 L441.7,490.1 L444.5,424 M402.2,530 L458.7,493.3 L462.5,426.9 M421.8,524 L318.3,502.7 L314.6,435.3 M433.6,516.3 L331.2,495.6 L328.2,429 M445,508.8 L343.6,488.7 L341.3,422.8 M456,501.5 L355.7,482.1 L354.1,416.8 M305.3,503.1 L366.9,469.6 L466.7,488.3 M304.8,495.2 L366.8,462.1 L467.2,480.6 M304.2,487.1 L366.7,454.4 L467.7,472.7 M303.7,479 L366.5,446.6 L468.2,464.7 M303.2,470.7 L366.4,438.8 L468.7,456.6 M302.6,462.3 L366.3,430.9 L469.2,448.4 M302.1,453.9 L366.2,422.8 L469.7,440.2 M301.5,445.3 L366,414.7 L470.3,431.8" fill="none" stroke="#b2b2b2" stroke-width="0.70"/>
<path d="M305.7,509.6 L410.2,531.7 L466.3,494.7 L470.5,428.2" fill="none" stroke="#111" stroke-width="0.63" stroke-linejoin="round"/>
<path d="M314.6,511.9 L316.3,511 M331.5,515.5 L333.1,514.6 M348.6,519.1 L350.2,518.2 M366,522.8 L367.6,521.8 M383.7,526.5 L385.3,525.5 M401.6,530.3 L403.2,529.3 M422.7,524.2 L420,523.7 M434.5,516.5 L431.8,515.9 M445.8,509 L443.2,508.4 M456.9,501.7 L454.2,501.2 M467.6,488.5 L465,488 M468.1,480.7 L465.5,480.2 M468.6,472.8 L466,472.4 M469.1,464.9 L466.4,464.4 M469.6,456.8 L466.9,456.3 M470.1,448.6 L467.4,448.1 M470.6,440.3 L467.9,439.9 M471.2,431.9 L468.4,431.5" fill="none" stroke="#222" stroke-width="0.88"/>
<g class="t" font-size="6.04" text-anchor="middle">
<text x="310.4" y="525">−20</text><text x="327.3" y="528.6">−10</text><text x="344.4" y="532.3">0</text><text x="361.8" y="536">10</text><text x="379.5" y="539.8">20</text><text x="397.4" y="543.6">30</text><text x="430" y="536.3">−40</text><text x="441.6" y="528.5">−20</text><text x="452.9" y="520.9">0</text><text x="463.8" y="513.5">20</text><text x="478.7" y="491.7">−40</text><text x="479.3" y="483.9">−30</text><text x="479.8" y="476">−20</text><text x="480.4" y="468">−10</text><text x="481" y="460">0</text><text x="481.6" y="451.8">10</text><text x="482.2" y="443.5">20</text><text x="482.8" y="435.2">30</text>
</g>
<path d="M396.5 466h0M378.5 450.4h0M396.2 461.5h0M402.1 464.5h0M394.4 461.4h0M399.7 464h0M386.5 459.9h0M378.1 454.7h0M386.3 461.5h0M398.1 466.9h0M398.3 466h0M388.1 458.3h0M377.9 459.2h0M396.3 466.9h0M386 456.2h0M390 463.5h0M386.7 460.4h0M388.9 464.1h0M395.2 460.1h0M385.9 459.3h0M389.8 458h0M385.9 461.8h0M398.7 464.1h0M375.5 452.6h0M391.3 457.1h0M390.8 457h0M388.3 459.6h0M392.3 465.1h0M385.8 457.5h0M387.2 457.3h0M384.8 458.6h0M383 459.3h0M387.5 458.9h0M388.3 460.7h0M394.8 464.6h0M384.4 456.6h0M389.3 457.3h0M389.1 462.1h0M383 458.4h0M389.7 459.3h0M389.4 460.3h0M391.6 460.5h0M390 461h0M394.6 460.4h0M386.8 463.5h0M391.3 462.3h0M395.9 462.9h0M386.7 462.5h0M395.3 460.4h0M381 459.4h0M387.3 463.5h0M385.5 461.3h0M391.5 462.2h0M382.2 456.3h0M388.8 459.1h0M399.5 465.7h0M400.4 468.8h0M397.5 465.1h0M388.4 459.8h0M386.4 459.6h0M402 467.4h0M386.1 461.9h0M386.1 462.4h0M389.2 458h0M393.8 463.7h0M396.9 464.9h0M386.3 461.3h0M392.6 460.8h0M393.8 465.1h0M398.2 463.6h0M393 463h0M387.3 463.5h0M387.3 458h0M386.3 458.9h0M399.5 464h0M382.1 456.4h0M385.6 455.9h0M387.8 455.6h0M391 460.2h0M374.2 455h0M387 459.4h0M395.2 466.2h0M394.7 466.9h0M391.6 464.5h0M384.5 459.6h0M385.1 457.6h0M381.1 457h0M373.8 456.2h0M385.5 456.7h0M387.7 454.9h0M379.9 456h0M384.3 455.2h0M383.1 455h0M390.1 462.5h0M382.6 458.1h0M386.5 461.8h0M385.5 456.7h0M388.6 461.8h0M382.5 454.8h0M387.2 459.4h0M398.8 462.5h0M384.3 458.7h0M383.9 457.6h0M400 466.6h0M388.7 462.3h0M379.8 453.3h0M382.7 463.5h0M374.1 454.5h0M402.7 462.1h0M377.2 458.7h0M389.8 458.5h0M382.1 462.8h0M393.6 460.4h0M389.3 459.5h0M390.8 466h0M388 457.9h0M382.9 456.8h0M384.4 456.8h0M393.3 463.1h0M397.3 466h0M394 465.8h0M381 454.2h0M388.8 456.6h0M387.5 458.2h0M394.5 463.4h0M378.5 455.6h0M392.2 463.5h0M394.6 458.7h0M388.3 460.5h0M385.9 456h0M382.1 456.4h0M382.2 459.4h0M388.2 459.3h0M392.9 459.4h0M392.7 465.4h0M393.5 465.6h0M406.3 465.8h0M399.5 467h0M383.6 457.1h0M390.1 460.7h0M379.4 458.5h0M393.2 459.7h0M393.3 461.8h0M382.6 459.7h0M392.3 464.6h0M377.9 457h0M381.3 458.9h0M385.2 459.9h0M381.6 458.4h0M400.9 464h0M390.4 462.1h0M386.9 462.8h0M388.5 456.6h0M387.2 459.1h0M400.3 465.1h0M390.9 463.6h0M392 462h0M403.5 466.4h0M382.7 457.2h0M388 459.2h0M390.5 462.4h0M386.5 462.8h0M395.9 459h0M391.2 463h0M393.7 462.7h0M387.6 463.7h0M392.6 462.2h0M408.7 466.1h0M377.8 454.7h0M373.5 453.9h0M380.7 456.5h0M381.3 454.5h0M383.1 457.4h0M394.2 467.8h0M383.4 461.6h0M389.4 460.3h0M395.3 466.2h0M386.8 460.4h0M383.6 457.2h0M393.9 465h0M392.3 456.9h0M391.1 463.8h0M408.3 465.2h0M401 465.5h0M388.9 461.7h0M373.4 455.5h0M395.9 467.4h0M387 466.2h0M389.5 459.1h0M393.8 458.2h0M385.5 458.9h0M390.2 459.5h0M387.9 459.5h0M387.9 465.4h0M384.3 457.2h0M374.1 449.8h0M390.7 461.8h0M403.5 463.8h0M390.9 461.2h0M382.4 461.8h0M387.1 461.7h0M389.5 458h0M380 456.4h0M384.4 462h0M390.4 458.7h0M394.4 465.8h0M383.2 459.6h0M399.4 464.3h0M386.6 461.5h0M384.9 456.4h0M386.7 461.7h0M392 463h0M390.4 465h0M379.4 453.9h0M391.3 461.1h0M383.1 458.6h0M391.7 459.7h0M383.2 460.7h0M382.7 456.4h0M394.2 460.9h0M388.2 463.7h0M388.6 460.9h0M391.2 464.5h0M395.6 460.4h0M385.7 458.4h0M389.8 461.5h0M386.7 455.6h0M391.2 458.3h0M377.3 454.7h0M388.8 462.7h0M386.7 460.2h0M384.8 456.3h0M390.4 460.9h0M388.4 460.7h0M399 462.6h0M404.8 463.9h0M378.9 455.5h0M389.4 463.1h0M380.2 459.6h0M389.8 460.2h0M382.2 457.6h0M392.6 461.6h0M396.5 461.4h0M388.5 458.8h0M392.9 462.1h0M396.2 460.7h0M382.1 459.4h0M387.8 455.6h0M396.9 459.6h0M393.8 465.8h0M402.6 464.1h0M383.5 462.9h0M395.2 467.4h0M392.2 460.5h0M383 463h0M398.9 465.7h0M386.5 463.2h0M403.4 466.2h0M396.5 462.7h0M386.9 462.7h0M399.1 464.2h0M397.2 460.8h0M386.2 460.2h0M382.1 456h0M386.7 458.7h0M390.7 460.7h0M383 457.2h0M391.9 462.1h0M384.7 456.5h0M415.2 471.5h0M396.3 462.2h0M378.3 457.4h0M384.8 458h0M384.3 461.8h0M384 460h0M375.7 458.5h0M390.9 462h0M383.1 453.5h0M379.1 460.4h0M396.9 462.7h0M387.6 456.3h0M397.5 466.5h0M389.5 459.6h0M388.2 461.7h0M397 464.9h0M388.2 461.8h0M389.9 456.3h0M381.8 455.7h0M392.3 458.9h0M391.3 460h0M391.2 463.6h0M384.9 454.8h0M382.5 459.1h0M391.6 462h0M392.7 461.7h0M392 466h0M392.5 462.2h0M390.2 463.2h0M398 462.1h0M384.1 456.6h0M385 456.2h0M385.8 458.8h0M398.2 461.9h0M394.6 459.9h0M387.9 460.9h0M393.7 463.1h0M377.5 452.4h0M389.3 460.1h0M387.2 459.2h0M394.7 460.2h0M391.3 465.1h0M402.1 466.6h0M392.9 461.4h0M391.7 458.3h0M384.5 463.1h0M402 462.4h0M397.3 464.2h0M390.4 464.4h0M388.9 460.4h0M388.3 457.5h0M389 461.2h0M383.7 453.5h0M392.7 462.1h0M386.7 458.5h0M383.9 458h0M380 453h0M380.3 456h0M386 458.6h0M393.2 463.3h0M402.4 469.5h0M391.8 464.5h0M388.8 455.4h0M383.4 457.7h0M386.9 460.5h0M395.9 463.2h0M383.4 457.5h0M394.6 463.3h0M393.6 461.9h0M396.2 463.9h0M393.7 462.7h0M382.5 457.5h0M393.3 463.9h0M402.6 465.5h0M385.6 462.2h0M400.8 463.9h0M399.7 464.7h0M390.3 455.8h0M381.7 453.1h0M382.7 454.2h0M393.9 462h0M384.9 460.4h0M383.5 458.6h0M374.6 452.9h0M386.5 459.5h0M394.1 459.9h0M393 459.8h0M379.9 456.6h0M391.5 461.7h0M391.1 461.2h0M382 456.1h0M394 464.9h0M388.8 460.4h0M404 466.8h0M389 461.7h0M387.6 456.3h0M391.1 461.7h0M396.2 466.7h0M397.9 463.8h0M385.5 459.3h0M405.5 468.7h0M392.4 459.4h0M389.3 460.4h0M398.9 463.5h0M390 463.3h0M386.7 459.5h0M387.6 458.9h0M386.2 460.1h0M392 466.8h0M387.9 460.1h0M385 458.6h0M392.6 459.3h0M397.5 473.1h0M387.4 462h0M386.4 462.5h0M394.2 470.3h0M400.6 465.8h0M395.2 471.9h0M383.9 458.6h0M397.6 466.9h0M395.3 468.9h0M420.2 472.9h0M394.2 466.6h0M399 466.5h0M393.5 466.5h0M392.4 461h0M393.6 464.4h0M393.9 463h0M395.9 465.6h0M379.2 456.4h0M396.5 461.7h0M403.6 468.8h0M391.8 457.9h0M384.8 465.1h0M403.6 471h0M387.3 463.2h0M378 462.9h0M389.2 461.7h0M401.6 467.4h0M402.5 467.5h0M387.6 461.1h0M391.6 462.2h0M391 468.9h0M395.1 468h0M391.2 458.2h0M379.7 452.7h0M404.8 471.3h0M382.6 461.3h0M403 466.8h0M387.2 458h0M389.4 463.8h0M410.4 477.3h0M400.7 462.4h0M384.7 459.1h0M395.6 465.3h0M407.1 473.8h0M379.6 462.9h0M387 458.9h0M405.3 470.2h0M411.4 470.6h0M382.3 462.9h0M383.2 468.8h0M391.8 467.5h0M404.5 465.5h0M382.4 463.5h0M404.6 470.5h0M402.8 463.9h0M395.6 461.7h0M386.4 457.7h0M387.6 463.7h0M389.7 468.7h0M410 467h0M393.5 467.3h0M404.1 470.9h0M393.2 472.8h0M400.8 467.7h0M388.4 462h0M404.7 474.2h0M387.4 461.3h0M407.8 464.4h0M390.1 463.8h0M376.6 462.3h0M370.8 460.3h0M378.4 464.6h0M370 470.5h0M375 456h0M373.3 459.8h0M372.5 454.5h0M375.8 460.8h0M384.1 463.2h0M373.5 459h0M375.2 463.1h0M376.2 459.1h0M381 468h0M383.5 466.6h0M377.8 466.6h0M370.9 462.4h0M369.2 461.2h0M369.9 466.5h0M383 463h0M374.5 464.4h0M372.8 464.7h0M382.2 459.1h0M381.7 459.7h0M375.6 466.6h0M371.7 460h0M380.7 463.4h0M373.8 462h0M378.5 461.1h0M373.4 457.5h0M381.4 460.6h0M402 476.6h0M391.5 468h0M410.3 472.1h0M397.4 457h0M382 472.7h0M392.2 459.5h0M398.8 465.2h0M391.4 465.1h0M392 474.9h0M403.3 469.6h0M410.9 467.8h0M421.6 488.1h0M413.1 470.2h0M408.4 472.5h0M416.4 471.8h0M397.6 458.4h0M415.1 479.7h0M399.3 467.9h0M382.5 461.1h0M405.1 471.6h0M386.3 476.1h0M410.4 468.2h0M376.9 467.6h0M390.4 470.3h0M394.6 468.2h0M394.5 466.4h0M402.1 470.9h0M415.1 470.5h0M406.9 466.3h0M398.6 467.4h0M366.2 472.8h0M364.6 482.7h0M379.7 484h0M374.9 479.5h0M388.5 476h0M392.5 474.4h0M396.4 480h0M396.4 484h0M402 480h0M407.6 474.4h0M410.8 479.2h0M415.6 480h0M417.9 476h0M415.2 485.2h0M418.7 488.7h0M423.5 479.2h0M431.5 478.4h0M433.9 480h0M407.6 465.6h0M414 468h0M394.8 453.7h0M378.9 469.6h0M372.5 467.2h0M367.7 458.5h0M367 461.7h0M377.3 437.7h0M370.9 429h0M364.6 425.8h0M359.7 424.2h0M364.5 426h0M370.7 429.2h0M377.7 437.6h0M364.8 482.9h0M390 497.8h0M431.6 478.5h0M434.2 480.3h0M417.8 492.3h0M418.9 489.5h0M423.7 478.9h0M431.8 478.4h0M433.9 480.1h0M418.9 476.5h0M415.2 485h0M416.9 493h0M389.7 498.3h0" stroke="#088e1e" stroke-width="2.51" stroke-linecap="round" fill="none"/>
<path d="M376.5 454.4h0M374.4 452.1h0M371 452.2h0M372 440.4h0M371.4 446.6h0M379.3 448.1h0M375 446.9h0M380.8 453h0M375.5 447.1h0M367.1 445.3h0M378.6 445.8h0M373.1 447.7h0M370.7 445.6h0M374.7 448.2h0M377.6 446.3h0M371.2 451.4h0M370.6 454h0M374.5 441.8h0M371.9 445.3h0M367.6 447.2h0M370.8 448h0M371.5 451.7h0M368.1 449.3h0M370.2 456.1h0M366.2 450.8h0M366.1 452.8h0M374.1 453.4h0M374.2 447.4h0M366.1 445.9h0M370.8 448.2h0M369.9 447.3h0M375.1 447h0M371.5 447.2h0M372.3 457.7h0M377.9 452.9h0M378.1 446.4h0M369.3 450.1h0M366.2 446.1h0M376.4 443.5h0M371.3 445h0M372.2 455h0M368 449.8h0M376 450.7h0M375.4 450.8h0M372.4 445.3h0M375.1 442.2h0M372.9 446.2h0M373.4 450.5h0M367.2 449.2h0M371.5 451.1h0M377.8 452.5h0M374.7 450.7h0M376.1 445h0M373.8 455.1h0M374.1 453.4h0M372.1 450.4h0M371.7 449h0M374.7 452.9h0M375.3 446h0M366.6 446.4h0M372.8 445.6h0M369.4 450h0M369.3 447.5h0M371 448.5h0M374.4 452.3h0M368 450.4h0M368.6 451.2h0M380.8 453.1h0M372.5 448.1h0M373.6 446.3h0M375.1 447.9h0M376.8 448.6h0M373 449.7h0M371.9 445.2h0M370.9 448.1h0M374.6 444.7h0M376.8 448.4h0M371.2 453.1h0M374 445.9h0M378.3 446h0M367.9 444.9h0M368.5 447.7h0M371.7 450.9h0M375.1 448.8h0M374.9 451.5h0M363 453.7h0M367 463.2h0M366.5 467.2h0M370.9 462.5h0M374.9 466.4h0M380.5 464h0M386.1 471.2h0M389.3 471.2h0M384.5 480.8h0M386.1 476.8h0M360.6 440.9h0M362.2 433h0M358.2 448.9h0M354.2 437.6h0M361.9 433.2h0" stroke="#fa1010" stroke-width="2.51" stroke-linecap="round" fill="none"/>
<path d="M354.2 424.9h0M358.6 429.9h0M353.1 434.3h0M356.9 434.7h0M361.9 432.1h0M359.7 443.5h0M364.1 446.3h0M366.3 449.4h0M372.9 443h0" stroke="#1a1a1a" stroke-width="2.51" stroke-linecap="round" fill="none"/>
<path d="M357.4 470.4h0M373.3 472.8h0M376.5 477.6h0M382.1 468h0M385.3 475.2h0M389.3 466.4h0M393.2 479.2h0M393.2 483.2h0M396.8 471.2h0M398 476h0M402.8 475.2h0M406.8 471.2h0M410.8 474.4h0M410 465.6h0M415.6 469.6h0M385.3 487.2h0M406.8 493.5h0M411.6 486.4h0M377.3 440.1h0M371.7 439h0M382.1 450.5h0M390.9 454.2h0M399.2 504.8h0M406.4 494.3h0M406.7 493.9h0M399 505.1h0M411.6 478.9h0M410.9 475.2h0M403.1 476h0M397 474h0M392.2 482.5h0M384.9 487.4h0" stroke="#1010fa" stroke-width="2.51" stroke-linecap="round" fill="none"/>
<rect x="277.4" y="404.4" width="57.2" height="40" rx="1.2" fill="#fff" fill-opacity="0.9" stroke="#ccc" stroke-width="0.6"/>
<g class="l" font-size="7.55">
<circle cx="286" cy="411" r="1.07" fill="#0c9a34" stroke="none"/><text x="288.6" y="413.7">Pass</text>
<circle cx="286" cy="420.3" r="1.07" fill="#262626" stroke="none"/><text x="288.6" y="423">Withdraw</text>
<circle cx="286" cy="429.3" r="1.07" fill="#fa2424" stroke="none"/><text x="288.6" y="432">Fail</text>
<circle cx="286" cy="438.6" r="1.07" fill="#2424fa" stroke="none"/><text x="288.6" y="441.3">Distinction</text>
</g>
<text class="t" x="278" y="397.6" font-size="7.6">GGG_2014J</text>
</g>
</svg>
</body></html>
